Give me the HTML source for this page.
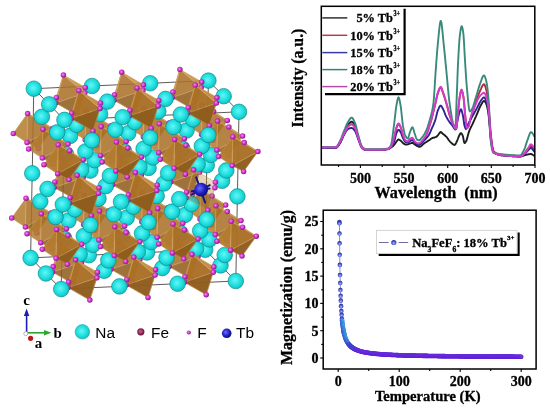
<!DOCTYPE html>
<html><head><meta charset="utf-8"><style>
html,body{margin:0;padding:0;background:#fff;}
svg{display:block;}
</style></head><body>
<svg width="550" height="410" viewBox="0 0 550 410">
<defs>
<radialGradient id="gb" cx="0.5" cy="0.65" r="0.6"><stop offset="0" stop-color="#a8b8ff"/><stop offset="0.55" stop-color="#5560d0"/><stop offset="1" stop-color="#2a2a9a"/></radialGradient>
<radialGradient id="gc" cx="0.6" cy="0.5" r="0.6"><stop offset="0" stop-color="#60d0f8"/><stop offset="0.6" stop-color="#3a9ae6"/><stop offset="1" stop-color="#3050c0"/></radialGradient>
<radialGradient id="gm" cx="0.5" cy="0.5" r="0.6"><stop offset="0" stop-color="#5a70f0"/><stop offset="1" stop-color="#4030c0"/></radialGradient>
<radialGradient id="gp" cx="0.5" cy="0.4" r="0.6"><stop offset="0" stop-color="#7a3af0"/><stop offset="1" stop-color="#5a1ed0"/></radialGradient>
</defs>
<rect width="550" height="410" fill="#fff"/>
<defs>
<radialGradient id="na" cx="0.45" cy="0.45" r="0.6"><stop offset="0" stop-color="#64f6f6"/><stop offset="0.55" stop-color="#22e0e0"/><stop offset="0.88" stop-color="#14c4c4"/><stop offset="1" stop-color="#0c9090"/></radialGradient>
<linearGradient id="feP" x1="0" y1="0" x2="1" y2="1"><stop offset="0" stop-color="#c48428"/><stop offset="1" stop-color="#8a5414"/></linearGradient>
<linearGradient id="feO" x1="0" y1="0" x2="1" y2="1"><stop offset="0" stop-color="#c08030"/><stop offset="1" stop-color="#8c5616"/></linearGradient>
<radialGradient id="fl" cx="0.42" cy="0.42" r="0.62"><stop offset="0" stop-color="#f48cf0"/><stop offset="0.55" stop-color="#cc2cc4"/><stop offset="1" stop-color="#7e1480"/></radialGradient>
<radialGradient id="tb" cx="0.4" cy="0.4" r="0.65"><stop offset="0" stop-color="#6a6aff"/><stop offset="0.6" stop-color="#1c1cc0"/><stop offset="1" stop-color="#0a0a70"/></radialGradient>
<radialGradient id="fe3" cx="0.45" cy="0.45" r="0.6"><stop offset="0" stop-color="#d06090"/><stop offset="0.6" stop-color="#8a2850"/><stop offset="1" stop-color="#501030"/></radialGradient>
</defs>
<line x1="33.8" y1="88.7" x2="208.4" y2="80.6" stroke="#5e5a56" stroke-width="1"/>
<line x1="33.8" y1="88.7" x2="30.6" y2="257.9" stroke="#5e5a56" stroke-width="1"/>
<line x1="33.8" y1="88.7" x2="64.4" y2="119.9" stroke="#5e5a56" stroke-width="1"/>
<line x1="64.4" y1="119.9" x2="239.0" y2="111.8" stroke="#5e5a56" stroke-width="1"/>
<line x1="64.4" y1="119.9" x2="61.2" y2="289.1" stroke="#5e5a56" stroke-width="1"/>
<line x1="30.6" y1="257.9" x2="205.2" y2="249.8" stroke="#5e5a56" stroke-width="1"/>
<line x1="30.6" y1="257.9" x2="61.2" y2="289.1" stroke="#5e5a56" stroke-width="1"/>
<line x1="61.2" y1="289.1" x2="235.8" y2="281.0" stroke="#5e5a56" stroke-width="1"/>
<line x1="208.4" y1="80.6" x2="205.2" y2="249.8" stroke="#5e5a56" stroke-width="1"/>
<line x1="208.4" y1="80.6" x2="239.0" y2="111.8" stroke="#5e5a56" stroke-width="1"/>
<line x1="239.0" y1="111.8" x2="235.8" y2="281.0" stroke="#5e5a56" stroke-width="1"/>
<line x1="205.2" y1="249.8" x2="235.8" y2="281.0" stroke="#5e5a56" stroke-width="1"/>
<circle cx="205.2" cy="249.8" r="7.8" fill="url(#na)" stroke="#0c8484" stroke-width="0.6"/>
<g opacity="0.86">
<polygon points="200.6,190.1 225.7,205.0 200.0,219.0" fill="#aa7026" stroke="#aa7026" stroke-width="0.4" stroke-linejoin="round"/>
<polygon points="200.6,190.1 212.0,196.0 225.7,205.0" fill="#c48c40" stroke="#c48c40" stroke-width="0.4" stroke-linejoin="round"/>
<polygon points="225.7,205.0 211.4,224.9 200.0,219.0" fill="#905c1c" stroke="#905c1c" stroke-width="0.4" stroke-linejoin="round"/>
<polygon points="200.0,219.0 186.3,210.0 200.6,190.1" fill="#b47c30" stroke="#b47c30" stroke-width="0.4" stroke-linejoin="round"/>
</g>
<path d="M200.6,190.1 L225.7,205.0 M225.7,205.0 L200.0,219.0 M200.0,219.0 L200.6,190.1" stroke="#e2b474" stroke-width="0.6" fill="none" opacity="0.85"/>
<polygon points="200.6,190.1 212.0,196.0 225.7,205.0 211.4,224.9 200.0,219.0 186.3,210.0" fill="none" stroke="#c89a50" stroke-width="0.5" stroke-linejoin="round"/>
<circle cx="200.6" cy="190.1" r="2.75" fill="url(#fl)"/>
<circle cx="212.0" cy="196.0" r="2.75" fill="url(#fl)"/>
<circle cx="225.7" cy="205.0" r="2.75" fill="url(#fl)"/>
<circle cx="211.4" cy="224.9" r="2.75" fill="url(#fl)"/>
<circle cx="200.0" cy="219.0" r="2.75" fill="url(#fl)"/>
<circle cx="186.3" cy="210.0" r="2.75" fill="url(#fl)"/>
<circle cx="180.7" cy="233.2" r="7.8" fill="url(#na)" stroke="#0c8484" stroke-width="0.6"/>
<circle cx="147.0" cy="252.5" r="7.8" fill="url(#na)" stroke="#0c8484" stroke-width="0.6"/>
<circle cx="206.8" cy="165.2" r="7.8" fill="url(#na)" stroke="#0c8484" stroke-width="0.6"/>
<g opacity="0.86">
<polygon points="142.4,192.8 167.5,207.7 141.8,221.7" fill="#aa7026" stroke="#aa7026" stroke-width="0.4" stroke-linejoin="round"/>
<polygon points="142.4,192.8 153.8,198.7 167.5,207.7" fill="#c48c40" stroke="#c48c40" stroke-width="0.4" stroke-linejoin="round"/>
<polygon points="167.5,207.7 153.2,227.6 141.8,221.7" fill="#905c1c" stroke="#905c1c" stroke-width="0.4" stroke-linejoin="round"/>
<polygon points="141.8,221.7 128.1,212.7 142.4,192.8" fill="#b47c30" stroke="#b47c30" stroke-width="0.4" stroke-linejoin="round"/>
</g>
<path d="M142.4,192.8 L167.5,207.7 M167.5,207.7 L141.8,221.7 M141.8,221.7 L142.4,192.8" stroke="#e2b474" stroke-width="0.6" fill="none" opacity="0.85"/>
<polygon points="142.4,192.8 153.8,198.7 167.5,207.7 153.2,227.6 141.8,221.7 128.1,212.7" fill="none" stroke="#c89a50" stroke-width="0.5" stroke-linejoin="round"/>
<circle cx="142.4" cy="192.8" r="2.75" fill="url(#fl)"/>
<circle cx="153.8" cy="198.7" r="2.75" fill="url(#fl)"/>
<circle cx="167.5" cy="207.7" r="2.75" fill="url(#fl)"/>
<circle cx="153.2" cy="227.6" r="2.75" fill="url(#fl)"/>
<circle cx="141.8" cy="221.7" r="2.75" fill="url(#fl)"/>
<circle cx="128.1" cy="212.7" r="2.75" fill="url(#fl)"/>
<circle cx="122.5" cy="235.9" r="7.8" fill="url(#na)" stroke="#0c8484" stroke-width="0.6"/>
<circle cx="209.4" cy="239.4" r="7.8" fill="url(#na)" stroke="#0c8484" stroke-width="0.6"/>
<circle cx="88.8" cy="255.2" r="7.8" fill="url(#na)" stroke="#0c8484" stroke-width="0.6"/>
<g opacity="0.86">
<polygon points="202.2,105.5 227.3,120.4 201.6,134.4" fill="#aa7026" stroke="#aa7026" stroke-width="0.4" stroke-linejoin="round"/>
<polygon points="202.2,105.5 213.6,111.4 227.3,120.4" fill="#c48c40" stroke="#c48c40" stroke-width="0.4" stroke-linejoin="round"/>
<polygon points="227.3,120.4 213.0,140.3 201.6,134.4" fill="#905c1c" stroke="#905c1c" stroke-width="0.4" stroke-linejoin="round"/>
<polygon points="201.6,134.4 187.9,125.4 202.2,105.5" fill="#b47c30" stroke="#b47c30" stroke-width="0.4" stroke-linejoin="round"/>
</g>
<path d="M202.2,105.5 L227.3,120.4 M227.3,120.4 L201.6,134.4 M201.6,134.4 L202.2,105.5" stroke="#e2b474" stroke-width="0.6" fill="none" opacity="0.85"/>
<polygon points="202.2,105.5 213.6,111.4 227.3,120.4 213.0,140.3 201.6,134.4 187.9,125.4" fill="none" stroke="#c89a50" stroke-width="0.5" stroke-linejoin="round"/>
<circle cx="202.2" cy="105.5" r="2.75" fill="url(#fl)"/>
<circle cx="213.6" cy="111.4" r="2.75" fill="url(#fl)"/>
<circle cx="227.3" cy="120.4" r="2.75" fill="url(#fl)"/>
<circle cx="213.0" cy="140.3" r="2.75" fill="url(#fl)"/>
<circle cx="201.6" cy="134.4" r="2.75" fill="url(#fl)"/>
<circle cx="187.9" cy="125.4" r="2.75" fill="url(#fl)"/>
<g opacity="0.86">
<polygon points="176.7,238.8 198.0,256.8 169.1,266.6" fill="#aa7026" stroke="#aa7026" stroke-width="0.4" stroke-linejoin="round"/>
<polygon points="176.7,238.8 198.5,251.2 198.0,256.8" fill="#c48c40" stroke="#c48c40" stroke-width="0.4" stroke-linejoin="round"/>
<polygon points="198.0,256.8 190.9,279.1 169.1,266.6" fill="#905c1c" stroke="#905c1c" stroke-width="0.4" stroke-linejoin="round"/>
<polygon points="169.1,266.6 169.6,261.1 176.7,238.8" fill="#b47c30" stroke="#b47c30" stroke-width="0.4" stroke-linejoin="round"/>
</g>
<path d="M176.7,238.8 L198.0,256.8 M198.0,256.8 L169.1,266.6 M169.1,266.6 L176.7,238.8" stroke="#e2b474" stroke-width="0.6" fill="none" opacity="0.85"/>
<polygon points="176.7,238.8 198.5,251.2 198.0,256.8 190.9,279.1 169.1,266.6 169.6,261.1" fill="none" stroke="#c89a50" stroke-width="0.5" stroke-linejoin="round"/>
<circle cx="176.7" cy="238.8" r="2.75" fill="url(#fl)"/>
<circle cx="198.5" cy="251.2" r="2.75" fill="url(#fl)"/>
<circle cx="198.0" cy="256.8" r="2.75" fill="url(#fl)"/>
<circle cx="190.9" cy="279.1" r="2.75" fill="url(#fl)"/>
<circle cx="169.1" cy="266.6" r="2.75" fill="url(#fl)"/>
<circle cx="169.6" cy="261.1" r="2.75" fill="url(#fl)"/>
<circle cx="182.3" cy="148.6" r="7.8" fill="url(#na)" stroke="#0c8484" stroke-width="0.6"/>
<circle cx="148.6" cy="167.9" r="7.8" fill="url(#na)" stroke="#0c8484" stroke-width="0.6"/>
<g opacity="0.86">
<polygon points="84.2,195.5 109.3,210.4 83.6,224.4" fill="#aa7026" stroke="#aa7026" stroke-width="0.4" stroke-linejoin="round"/>
<polygon points="84.2,195.5 95.6,201.4 109.3,210.4" fill="#c48c40" stroke="#c48c40" stroke-width="0.4" stroke-linejoin="round"/>
<polygon points="109.3,210.4 95.0,230.3 83.6,224.4" fill="#905c1c" stroke="#905c1c" stroke-width="0.4" stroke-linejoin="round"/>
<polygon points="83.6,224.4 69.9,215.4 84.2,195.5" fill="#b47c30" stroke="#b47c30" stroke-width="0.4" stroke-linejoin="round"/>
</g>
<path d="M84.2,195.5 L109.3,210.4 M109.3,210.4 L83.6,224.4 M83.6,224.4 L84.2,195.5" stroke="#e2b474" stroke-width="0.6" fill="none" opacity="0.85"/>
<polygon points="84.2,195.5 95.6,201.4 109.3,210.4 95.0,230.3 83.6,224.4 69.9,215.4" fill="none" stroke="#c89a50" stroke-width="0.5" stroke-linejoin="round"/>
<circle cx="84.2" cy="195.5" r="2.75" fill="url(#fl)"/>
<circle cx="95.6" cy="201.4" r="2.75" fill="url(#fl)"/>
<circle cx="109.3" cy="210.4" r="2.75" fill="url(#fl)"/>
<circle cx="95.0" cy="230.3" r="2.75" fill="url(#fl)"/>
<circle cx="83.6" cy="224.4" r="2.75" fill="url(#fl)"/>
<circle cx="69.9" cy="215.4" r="2.75" fill="url(#fl)"/>
<circle cx="64.3" cy="238.6" r="7.8" fill="url(#na)" stroke="#0c8484" stroke-width="0.6"/>
<circle cx="208.4" cy="80.6" r="7.8" fill="url(#na)" stroke="#0c8484" stroke-width="0.6"/>
<circle cx="184.9" cy="215.1" r="7.8" fill="url(#na)" stroke="#0c8484" stroke-width="0.6"/>
<circle cx="151.2" cy="242.1" r="7.8" fill="url(#na)" stroke="#0c8484" stroke-width="0.6"/>
<circle cx="30.6" cy="257.9" r="7.8" fill="url(#na)" stroke="#0c8484" stroke-width="0.6"/>
<g opacity="0.86">
<polygon points="144.0,108.2 169.1,123.1 143.4,137.1" fill="#aa7026" stroke="#aa7026" stroke-width="0.4" stroke-linejoin="round"/>
<polygon points="144.0,108.2 155.4,114.1 169.1,123.1" fill="#c48c40" stroke="#c48c40" stroke-width="0.4" stroke-linejoin="round"/>
<polygon points="169.1,123.1 154.8,143.0 143.4,137.1" fill="#905c1c" stroke="#905c1c" stroke-width="0.4" stroke-linejoin="round"/>
<polygon points="143.4,137.1 129.7,128.1 144.0,108.2" fill="#b47c30" stroke="#b47c30" stroke-width="0.4" stroke-linejoin="round"/>
</g>
<path d="M144.0,108.2 L169.1,123.1 M169.1,123.1 L143.4,137.1 M143.4,137.1 L144.0,108.2" stroke="#e2b474" stroke-width="0.6" fill="none" opacity="0.85"/>
<polygon points="144.0,108.2 155.4,114.1 169.1,123.1 154.8,143.0 143.4,137.1 129.7,128.1" fill="none" stroke="#c89a50" stroke-width="0.5" stroke-linejoin="round"/>
<circle cx="144.0" cy="108.2" r="2.75" fill="url(#fl)"/>
<circle cx="155.4" cy="114.1" r="2.75" fill="url(#fl)"/>
<circle cx="169.1" cy="123.1" r="2.75" fill="url(#fl)"/>
<circle cx="154.8" cy="143.0" r="2.75" fill="url(#fl)"/>
<circle cx="143.4" cy="137.1" r="2.75" fill="url(#fl)"/>
<circle cx="129.7" cy="128.1" r="2.75" fill="url(#fl)"/>
<g opacity="0.86">
<polygon points="118.5,241.4 139.8,259.4 110.9,269.3" fill="#aa7026" stroke="#aa7026" stroke-width="0.4" stroke-linejoin="round"/>
<polygon points="118.5,241.4 140.2,253.9 139.8,259.4" fill="#c48c40" stroke="#c48c40" stroke-width="0.4" stroke-linejoin="round"/>
<polygon points="139.8,259.4 132.7,281.8 110.9,269.3" fill="#905c1c" stroke="#905c1c" stroke-width="0.4" stroke-linejoin="round"/>
<polygon points="110.9,269.3 111.4,263.8 118.5,241.4" fill="#b47c30" stroke="#b47c30" stroke-width="0.4" stroke-linejoin="round"/>
</g>
<path d="M118.5,241.4 L139.8,259.4 M139.8,259.4 L110.9,269.3 M110.9,269.3 L118.5,241.4" stroke="#e2b474" stroke-width="0.6" fill="none" opacity="0.85"/>
<polygon points="118.5,241.4 140.2,253.9 139.8,259.4 132.7,281.8 110.9,269.3 111.4,263.8" fill="none" stroke="#c89a50" stroke-width="0.5" stroke-linejoin="round"/>
<circle cx="118.5" cy="241.4" r="2.75" fill="url(#fl)"/>
<circle cx="140.2" cy="253.9" r="2.75" fill="url(#fl)"/>
<circle cx="139.8" cy="259.4" r="2.75" fill="url(#fl)"/>
<circle cx="132.7" cy="281.8" r="2.75" fill="url(#fl)"/>
<circle cx="110.9" cy="269.3" r="2.75" fill="url(#fl)"/>
<circle cx="111.4" cy="263.8" r="2.75" fill="url(#fl)"/>
<circle cx="124.1" cy="151.3" r="7.8" fill="url(#na)" stroke="#0c8484" stroke-width="0.6"/>
<circle cx="220.5" cy="265.4" r="7.8" fill="url(#na)" stroke="#0c8484" stroke-width="0.6"/>
<circle cx="211.0" cy="154.8" r="7.8" fill="url(#na)" stroke="#0c8484" stroke-width="0.6"/>
<circle cx="90.4" cy="170.6" r="7.8" fill="url(#na)" stroke="#0c8484" stroke-width="0.6"/>
<g opacity="0.86">
<polygon points="178.3,154.2 199.6,172.2 170.7,182.1" fill="#aa7026" stroke="#aa7026" stroke-width="0.4" stroke-linejoin="round"/>
<polygon points="178.3,154.2 200.1,166.7 199.6,172.2" fill="#c48c40" stroke="#c48c40" stroke-width="0.4" stroke-linejoin="round"/>
<polygon points="199.6,172.2 192.5,194.6 170.7,182.1" fill="#905c1c" stroke="#905c1c" stroke-width="0.4" stroke-linejoin="round"/>
<polygon points="170.7,182.1 171.2,176.6 178.3,154.2" fill="#b47c30" stroke="#b47c30" stroke-width="0.4" stroke-linejoin="round"/>
</g>
<path d="M178.3,154.2 L199.6,172.2 M199.6,172.2 L170.7,182.1 M170.7,182.1 L178.3,154.2" stroke="#e2b474" stroke-width="0.6" fill="none" opacity="0.85"/>
<polygon points="178.3,154.2 200.1,166.7 199.6,172.2 192.5,194.6 170.7,182.1 171.2,176.6" fill="none" stroke="#c89a50" stroke-width="0.5" stroke-linejoin="round"/>
<circle cx="178.3" cy="154.2" r="2.75" fill="url(#fl)"/>
<circle cx="200.1" cy="166.7" r="2.75" fill="url(#fl)"/>
<circle cx="199.6" cy="172.2" r="2.75" fill="url(#fl)"/>
<circle cx="192.5" cy="194.6" r="2.75" fill="url(#fl)"/>
<circle cx="170.7" cy="182.1" r="2.75" fill="url(#fl)"/>
<circle cx="171.2" cy="176.6" r="2.75" fill="url(#fl)"/>
<circle cx="156.7" cy="196.0" r="7.8" fill="url(#na)" stroke="#0c8484" stroke-width="0.6"/>
<g opacity="0.86">
<polygon points="26.0,198.2 51.1,213.1 25.4,227.1" fill="#aa7026" stroke="#aa7026" stroke-width="0.4" stroke-linejoin="round"/>
<polygon points="26.0,198.2 37.4,204.1 51.1,213.1" fill="#c48c40" stroke="#c48c40" stroke-width="0.4" stroke-linejoin="round"/>
<polygon points="51.1,213.1 36.8,233.0 25.4,227.1" fill="#905c1c" stroke="#905c1c" stroke-width="0.4" stroke-linejoin="round"/>
<polygon points="25.4,227.1 11.7,218.1 26.0,198.2" fill="#b47c30" stroke="#b47c30" stroke-width="0.4" stroke-linejoin="round"/>
</g>
<path d="M26.0,198.2 L51.1,213.1 M51.1,213.1 L25.4,227.1 M25.4,227.1 L26.0,198.2" stroke="#e2b474" stroke-width="0.6" fill="none" opacity="0.85"/>
<polygon points="26.0,198.2 37.4,204.1 51.1,213.1 36.8,233.0 25.4,227.1 11.7,218.1" fill="none" stroke="#c89a50" stroke-width="0.5" stroke-linejoin="round"/>
<circle cx="26.0" cy="198.2" r="2.75" fill="url(#fl)"/>
<circle cx="37.4" cy="204.1" r="2.75" fill="url(#fl)"/>
<circle cx="51.1" cy="213.1" r="2.75" fill="url(#fl)"/>
<circle cx="36.8" cy="233.0" r="2.75" fill="url(#fl)"/>
<circle cx="25.4" cy="227.1" r="2.75" fill="url(#fl)"/>
<circle cx="11.7" cy="218.1" r="2.75" fill="url(#fl)"/>
<circle cx="150.2" cy="83.3" r="7.8" fill="url(#na)" stroke="#0c8484" stroke-width="0.6"/>
<circle cx="126.7" cy="217.8" r="7.8" fill="url(#na)" stroke="#0c8484" stroke-width="0.6"/>
<g opacity="0.86">
<polygon points="215.9,205.7 241.0,220.6 215.3,234.6" fill="#aa7026" stroke="#aa7026" stroke-width="0.4" stroke-linejoin="round"/>
<polygon points="215.9,205.7 227.3,211.6 241.0,220.6" fill="#c48c40" stroke="#c48c40" stroke-width="0.4" stroke-linejoin="round"/>
<polygon points="241.0,220.6 226.7,240.5 215.3,234.6" fill="#905c1c" stroke="#905c1c" stroke-width="0.4" stroke-linejoin="round"/>
<polygon points="215.3,234.6 201.6,225.6 215.9,205.7" fill="#b47c30" stroke="#b47c30" stroke-width="0.4" stroke-linejoin="round"/>
</g>
<path d="M215.9,205.7 L241.0,220.6 M241.0,220.6 L215.3,234.6 M215.3,234.6 L215.9,205.7" stroke="#e2b474" stroke-width="0.6" fill="none" opacity="0.85"/>
<polygon points="215.9,205.7 227.3,211.6 241.0,220.6 226.7,240.5 215.3,234.6 201.6,225.6" fill="none" stroke="#c89a50" stroke-width="0.5" stroke-linejoin="round"/>
<circle cx="215.9" cy="205.7" r="2.75" fill="url(#fl)"/>
<circle cx="227.3" cy="211.6" r="2.75" fill="url(#fl)"/>
<circle cx="241.0" cy="220.6" r="2.75" fill="url(#fl)"/>
<circle cx="226.7" cy="240.5" r="2.75" fill="url(#fl)"/>
<circle cx="215.3" cy="234.6" r="2.75" fill="url(#fl)"/>
<circle cx="201.6" cy="225.6" r="2.75" fill="url(#fl)"/>
<circle cx="93.0" cy="244.8" r="7.8" fill="url(#na)" stroke="#0c8484" stroke-width="0.6"/>
<circle cx="196.0" cy="248.8" r="7.8" fill="url(#na)" stroke="#0c8484" stroke-width="0.6"/>
<g opacity="0.86">
<polygon points="85.8,110.9 110.9,125.8 85.2,139.8" fill="#aa7026" stroke="#aa7026" stroke-width="0.4" stroke-linejoin="round"/>
<polygon points="85.8,110.9 97.2,116.8 110.9,125.8" fill="#c48c40" stroke="#c48c40" stroke-width="0.4" stroke-linejoin="round"/>
<polygon points="110.9,125.8 96.6,145.7 85.2,139.8" fill="#905c1c" stroke="#905c1c" stroke-width="0.4" stroke-linejoin="round"/>
<polygon points="85.2,139.8 71.5,130.8 85.8,110.9" fill="#b47c30" stroke="#b47c30" stroke-width="0.4" stroke-linejoin="round"/>
</g>
<path d="M85.8,110.9 L110.9,125.8 M110.9,125.8 L85.2,139.8 M85.2,139.8 L85.8,110.9" stroke="#e2b474" stroke-width="0.6" fill="none" opacity="0.85"/>
<polygon points="85.8,110.9 97.2,116.8 110.9,125.8 96.6,145.7 85.2,139.8 71.5,130.8" fill="none" stroke="#c89a50" stroke-width="0.5" stroke-linejoin="round"/>
<circle cx="85.8" cy="110.9" r="2.75" fill="url(#fl)"/>
<circle cx="97.2" cy="116.8" r="2.75" fill="url(#fl)"/>
<circle cx="110.9" cy="125.8" r="2.75" fill="url(#fl)"/>
<circle cx="96.6" cy="145.7" r="2.75" fill="url(#fl)"/>
<circle cx="85.2" cy="139.8" r="2.75" fill="url(#fl)"/>
<circle cx="71.5" cy="130.8" r="2.75" fill="url(#fl)"/>
<g opacity="0.86">
<polygon points="60.2,244.2 81.5,262.2 52.6,272.1" fill="#aa7026" stroke="#aa7026" stroke-width="0.4" stroke-linejoin="round"/>
<polygon points="60.2,244.2 82.0,256.7 81.5,262.2" fill="#c48c40" stroke="#c48c40" stroke-width="0.4" stroke-linejoin="round"/>
<polygon points="81.5,262.2 74.4,284.6 52.6,272.1" fill="#905c1c" stroke="#905c1c" stroke-width="0.4" stroke-linejoin="round"/>
<polygon points="52.6,272.1 53.1,266.6 60.2,244.2" fill="#b47c30" stroke="#b47c30" stroke-width="0.4" stroke-linejoin="round"/>
</g>
<path d="M60.2,244.2 L81.5,262.2 M81.5,262.2 L52.6,272.1 M52.6,272.1 L60.2,244.2" stroke="#e2b474" stroke-width="0.6" fill="none" opacity="0.85"/>
<polygon points="60.2,244.2 82.0,256.7 81.5,262.2 74.4,284.6 52.6,272.1 53.1,266.6" fill="none" stroke="#c89a50" stroke-width="0.5" stroke-linejoin="round"/>
<circle cx="60.2" cy="244.2" r="2.75" fill="url(#fl)"/>
<circle cx="82.0" cy="256.7" r="2.75" fill="url(#fl)"/>
<circle cx="81.5" cy="262.2" r="2.75" fill="url(#fl)"/>
<circle cx="74.4" cy="284.6" r="2.75" fill="url(#fl)"/>
<circle cx="52.6" cy="272.1" r="2.75" fill="url(#fl)"/>
<circle cx="53.1" cy="266.6" r="2.75" fill="url(#fl)"/>
<circle cx="65.9" cy="154.0" r="7.8" fill="url(#na)" stroke="#0c8484" stroke-width="0.6"/>
<circle cx="186.5" cy="130.5" r="7.8" fill="url(#na)" stroke="#0c8484" stroke-width="0.6"/>
<circle cx="162.3" cy="268.1" r="7.8" fill="url(#na)" stroke="#0c8484" stroke-width="0.6"/>
<circle cx="152.8" cy="157.5" r="7.8" fill="url(#na)" stroke="#0c8484" stroke-width="0.6"/>
<circle cx="32.2" cy="173.3" r="7.8" fill="url(#na)" stroke="#0c8484" stroke-width="0.6"/>
<g opacity="0.86">
<polygon points="120.1,156.9 141.4,174.9 112.5,184.8" fill="#aa7026" stroke="#aa7026" stroke-width="0.4" stroke-linejoin="round"/>
<polygon points="120.1,156.9 141.9,169.4 141.4,174.9" fill="#c48c40" stroke="#c48c40" stroke-width="0.4" stroke-linejoin="round"/>
<polygon points="141.4,174.9 134.3,197.2 112.5,184.8" fill="#905c1c" stroke="#905c1c" stroke-width="0.4" stroke-linejoin="round"/>
<polygon points="112.5,184.8 113.0,179.2 120.1,156.9" fill="#b47c30" stroke="#b47c30" stroke-width="0.4" stroke-linejoin="round"/>
</g>
<path d="M120.1,156.9 L141.4,174.9 M141.4,174.9 L112.5,184.8 M112.5,184.8 L120.1,156.9" stroke="#e2b474" stroke-width="0.6" fill="none" opacity="0.85"/>
<polygon points="120.1,156.9 141.9,169.4 141.4,174.9 134.3,197.2 112.5,184.8 113.0,179.2" fill="none" stroke="#c89a50" stroke-width="0.5" stroke-linejoin="round"/>
<circle cx="120.1" cy="156.9" r="2.75" fill="url(#fl)"/>
<circle cx="141.9" cy="169.4" r="2.75" fill="url(#fl)"/>
<circle cx="141.4" cy="174.9" r="2.75" fill="url(#fl)"/>
<circle cx="134.3" cy="197.2" r="2.75" fill="url(#fl)"/>
<circle cx="112.5" cy="184.8" r="2.75" fill="url(#fl)"/>
<circle cx="113.0" cy="179.2" r="2.75" fill="url(#fl)"/>
<circle cx="222.1" cy="180.8" r="7.8" fill="url(#na)" stroke="#0c8484" stroke-width="0.6"/>
<circle cx="98.5" cy="198.7" r="7.8" fill="url(#na)" stroke="#0c8484" stroke-width="0.6"/>
<circle cx="191.4" cy="204.0" r="7.8" fill="url(#na)" stroke="#0c8484" stroke-width="0.6"/>
<circle cx="92.0" cy="86.0" r="7.8" fill="url(#na)" stroke="#0c8484" stroke-width="0.6"/>
<circle cx="68.5" cy="220.5" r="7.8" fill="url(#na)" stroke="#0c8484" stroke-width="0.6"/>
<g opacity="0.86">
<polygon points="179.9,69.5 201.2,87.5 172.3,97.5" fill="#aa7026" stroke="#aa7026" stroke-width="0.4" stroke-linejoin="round"/>
<polygon points="179.9,69.5 201.7,82.0 201.2,87.5" fill="#c48c40" stroke="#c48c40" stroke-width="0.4" stroke-linejoin="round"/>
<polygon points="201.2,87.5 194.1,110.0 172.3,97.5" fill="#905c1c" stroke="#905c1c" stroke-width="0.4" stroke-linejoin="round"/>
<polygon points="172.3,97.5 172.8,92.0 179.9,69.5" fill="#b47c30" stroke="#b47c30" stroke-width="0.4" stroke-linejoin="round"/>
</g>
<path d="M179.9,69.5 L201.2,87.5 M201.2,87.5 L172.3,97.5 M172.3,97.5 L179.9,69.5" stroke="#e2b474" stroke-width="0.6" fill="none" opacity="0.85"/>
<polygon points="179.9,69.5 201.7,82.0 201.2,87.5 194.1,110.0 172.3,97.5 172.8,92.0" fill="none" stroke="#c89a50" stroke-width="0.5" stroke-linejoin="round"/>
<circle cx="179.9" cy="69.5" r="2.75" fill="url(#fl)"/>
<circle cx="201.7" cy="82.0" r="2.75" fill="url(#fl)"/>
<circle cx="201.2" cy="87.5" r="2.75" fill="url(#fl)"/>
<circle cx="194.1" cy="110.0" r="2.75" fill="url(#fl)"/>
<circle cx="172.3" cy="97.5" r="2.75" fill="url(#fl)"/>
<circle cx="172.8" cy="92.0" r="2.75" fill="url(#fl)"/>
<g opacity="0.86">
<polygon points="157.7,208.4 182.8,223.3 157.1,237.3" fill="#aa7026" stroke="#aa7026" stroke-width="0.4" stroke-linejoin="round"/>
<polygon points="157.7,208.4 169.1,214.3 182.8,223.3" fill="#c48c40" stroke="#c48c40" stroke-width="0.4" stroke-linejoin="round"/>
<polygon points="182.8,223.3 168.5,243.2 157.1,237.3" fill="#905c1c" stroke="#905c1c" stroke-width="0.4" stroke-linejoin="round"/>
<polygon points="157.1,237.3 143.4,228.3 157.7,208.4" fill="#b47c30" stroke="#b47c30" stroke-width="0.4" stroke-linejoin="round"/>
</g>
<path d="M157.7,208.4 L182.8,223.3 M182.8,223.3 L157.1,237.3 M157.1,237.3 L157.7,208.4" stroke="#e2b474" stroke-width="0.6" fill="none" opacity="0.85"/>
<polygon points="157.7,208.4 169.1,214.3 182.8,223.3 168.5,243.2 157.1,237.3 143.4,228.3" fill="none" stroke="#c89a50" stroke-width="0.5" stroke-linejoin="round"/>
<circle cx="157.7" cy="208.4" r="2.75" fill="url(#fl)"/>
<circle cx="169.1" cy="214.3" r="2.75" fill="url(#fl)"/>
<circle cx="182.8" cy="223.3" r="2.75" fill="url(#fl)"/>
<circle cx="168.5" cy="243.2" r="2.75" fill="url(#fl)"/>
<circle cx="157.1" cy="237.3" r="2.75" fill="url(#fl)"/>
<circle cx="143.4" cy="228.3" r="2.75" fill="url(#fl)"/>
<circle cx="137.8" cy="251.5" r="7.8" fill="url(#na)" stroke="#0c8484" stroke-width="0.6"/>
<circle cx="158.3" cy="111.4" r="7.8" fill="url(#na)" stroke="#0c8484" stroke-width="0.6"/>
<g opacity="0.86">
<polygon points="27.6,113.6 52.7,128.5 27.0,142.5" fill="#aa7026" stroke="#aa7026" stroke-width="0.4" stroke-linejoin="round"/>
<polygon points="27.6,113.6 39.0,119.5 52.7,128.5" fill="#c48c40" stroke="#c48c40" stroke-width="0.4" stroke-linejoin="round"/>
<polygon points="52.7,128.5 38.4,148.4 27.0,142.5" fill="#905c1c" stroke="#905c1c" stroke-width="0.4" stroke-linejoin="round"/>
<polygon points="27.0,142.5 13.3,133.5 27.6,113.6" fill="#b47c30" stroke="#b47c30" stroke-width="0.4" stroke-linejoin="round"/>
</g>
<path d="M27.6,113.6 L52.7,128.5 M52.7,128.5 L27.0,142.5 M27.0,142.5 L27.6,113.6" stroke="#e2b474" stroke-width="0.6" fill="none" opacity="0.85"/>
<polygon points="27.6,113.6 39.0,119.5 52.7,128.5 38.4,148.4 27.0,142.5 13.3,133.5" fill="none" stroke="#c89a50" stroke-width="0.5" stroke-linejoin="round"/>
<circle cx="27.6" cy="113.6" r="2.75" fill="url(#fl)"/>
<circle cx="39.0" cy="119.5" r="2.75" fill="url(#fl)"/>
<circle cx="52.7" cy="128.5" r="2.75" fill="url(#fl)"/>
<circle cx="38.4" cy="148.4" r="2.75" fill="url(#fl)"/>
<circle cx="27.0" cy="142.5" r="2.75" fill="url(#fl)"/>
<circle cx="13.3" cy="133.5" r="2.75" fill="url(#fl)"/>
<circle cx="224.7" cy="255.0" r="7.8" fill="url(#na)" stroke="#0c8484" stroke-width="0.6"/>
<circle cx="128.3" cy="133.2" r="7.8" fill="url(#na)" stroke="#0c8484" stroke-width="0.6"/>
<circle cx="104.1" cy="270.8" r="7.8" fill="url(#na)" stroke="#0c8484" stroke-width="0.6"/>
<g opacity="0.86">
<polygon points="217.5,121.1 242.6,136.0 216.9,150.0" fill="#aa7026" stroke="#aa7026" stroke-width="0.4" stroke-linejoin="round"/>
<polygon points="217.5,121.1 228.9,127.0 242.6,136.0" fill="#c48c40" stroke="#c48c40" stroke-width="0.4" stroke-linejoin="round"/>
<polygon points="242.6,136.0 228.3,155.9 216.9,150.0" fill="#905c1c" stroke="#905c1c" stroke-width="0.4" stroke-linejoin="round"/>
<polygon points="216.9,150.0 203.2,141.0 217.5,121.1" fill="#b47c30" stroke="#b47c30" stroke-width="0.4" stroke-linejoin="round"/>
</g>
<path d="M217.5,121.1 L242.6,136.0 M242.6,136.0 L216.9,150.0 M216.9,150.0 L217.5,121.1" stroke="#e2b474" stroke-width="0.6" fill="none" opacity="0.85"/>
<polygon points="217.5,121.1 228.9,127.0 242.6,136.0 228.3,155.9 216.9,150.0 203.2,141.0" fill="none" stroke="#c89a50" stroke-width="0.5" stroke-linejoin="round"/>
<circle cx="217.5" cy="121.1" r="2.75" fill="url(#fl)"/>
<circle cx="228.9" cy="127.0" r="2.75" fill="url(#fl)"/>
<circle cx="242.6" cy="136.0" r="2.75" fill="url(#fl)"/>
<circle cx="228.3" cy="155.9" r="2.75" fill="url(#fl)"/>
<circle cx="216.9" cy="150.0" r="2.75" fill="url(#fl)"/>
<circle cx="203.2" cy="141.0" r="2.75" fill="url(#fl)"/>
<g opacity="0.97">
<polygon points="192.0,254.3 213.2,272.3 184.4,282.2" fill="#aa7026" stroke="#aa7026" stroke-width="0.4" stroke-linejoin="round"/>
<polygon points="192.0,254.3 213.8,266.8 213.2,272.3" fill="#c48c40" stroke="#c48c40" stroke-width="0.4" stroke-linejoin="round"/>
<polygon points="213.2,272.3 206.2,294.7 184.4,282.2" fill="#905c1c" stroke="#905c1c" stroke-width="0.4" stroke-linejoin="round"/>
<polygon points="184.4,282.2 184.9,276.7 192.0,254.3" fill="#b47c30" stroke="#b47c30" stroke-width="0.4" stroke-linejoin="round"/>
</g>
<path d="M192.0,254.3 L213.2,272.3 M213.2,272.3 L184.4,282.2 M184.4,282.2 L192.0,254.3" stroke="#e2b474" stroke-width="0.6" fill="none" opacity="0.85"/>
<polygon points="192.0,254.3 213.8,266.8 213.2,272.3 206.2,294.7 184.4,282.2 184.9,276.7" fill="none" stroke="#c89a50" stroke-width="0.5" stroke-linejoin="round"/>
<circle cx="192.0" cy="254.3" r="2.75" fill="url(#fl)"/>
<circle cx="213.8" cy="266.8" r="2.75" fill="url(#fl)"/>
<circle cx="213.2" cy="272.3" r="2.75" fill="url(#fl)"/>
<circle cx="206.2" cy="294.7" r="2.75" fill="url(#fl)"/>
<circle cx="184.4" cy="282.2" r="2.75" fill="url(#fl)"/>
<circle cx="184.9" cy="276.7" r="2.75" fill="url(#fl)"/>
<circle cx="94.6" cy="160.2" r="7.8" fill="url(#na)" stroke="#0c8484" stroke-width="0.6"/>
<circle cx="197.6" cy="164.2" r="7.8" fill="url(#na)" stroke="#0c8484" stroke-width="0.6"/>
<g opacity="0.86">
<polygon points="61.9,159.6 83.2,177.6 54.2,187.4" fill="#aa7026" stroke="#aa7026" stroke-width="0.4" stroke-linejoin="round"/>
<polygon points="61.9,159.6 83.7,172.1 83.2,177.6" fill="#c48c40" stroke="#c48c40" stroke-width="0.4" stroke-linejoin="round"/>
<polygon points="83.2,177.6 76.0,199.9 54.2,187.4" fill="#905c1c" stroke="#905c1c" stroke-width="0.4" stroke-linejoin="round"/>
<polygon points="54.2,187.4 54.8,181.9 61.9,159.6" fill="#b47c30" stroke="#b47c30" stroke-width="0.4" stroke-linejoin="round"/>
</g>
<path d="M61.9,159.6 L83.2,177.6 M83.2,177.6 L54.2,187.4 M54.2,187.4 L61.9,159.6" stroke="#e2b474" stroke-width="0.6" fill="none" opacity="0.85"/>
<polygon points="61.9,159.6 83.7,172.1 83.2,177.6 76.0,199.9 54.2,187.4 54.8,181.9" fill="none" stroke="#c89a50" stroke-width="0.5" stroke-linejoin="round"/>
<circle cx="61.9" cy="159.6" r="2.75" fill="url(#fl)"/>
<circle cx="83.7" cy="172.1" r="2.75" fill="url(#fl)"/>
<circle cx="83.2" cy="177.6" r="2.75" fill="url(#fl)"/>
<circle cx="76.0" cy="199.9" r="2.75" fill="url(#fl)"/>
<circle cx="54.2" cy="187.4" r="2.75" fill="url(#fl)"/>
<circle cx="54.8" cy="181.9" r="2.75" fill="url(#fl)"/>
<circle cx="163.9" cy="183.5" r="7.8" fill="url(#na)" stroke="#0c8484" stroke-width="0.6"/>
<circle cx="40.3" cy="201.4" r="7.8" fill="url(#na)" stroke="#0c8484" stroke-width="0.6"/>
<circle cx="133.2" cy="206.7" r="7.8" fill="url(#na)" stroke="#0c8484" stroke-width="0.6"/>
<circle cx="33.8" cy="88.7" r="7.8" fill="url(#na)" stroke="#0c8484" stroke-width="0.6"/>
<g opacity="0.86">
<polygon points="121.7,72.2 142.9,90.2 114.0,100.2" fill="#aa7026" stroke="#aa7026" stroke-width="0.4" stroke-linejoin="round"/>
<polygon points="121.7,72.2 143.4,84.8 142.9,90.2" fill="#c48c40" stroke="#c48c40" stroke-width="0.4" stroke-linejoin="round"/>
<polygon points="142.9,90.2 135.8,112.7 114.0,100.2" fill="#905c1c" stroke="#905c1c" stroke-width="0.4" stroke-linejoin="round"/>
<polygon points="114.0,100.2 114.5,94.7 121.7,72.2" fill="#b47c30" stroke="#b47c30" stroke-width="0.4" stroke-linejoin="round"/>
</g>
<path d="M121.7,72.2 L142.9,90.2 M142.9,90.2 L114.0,100.2 M114.0,100.2 L121.7,72.2" stroke="#e2b474" stroke-width="0.6" fill="none" opacity="0.85"/>
<polygon points="121.7,72.2 143.4,84.8 142.9,90.2 135.8,112.7 114.0,100.2 114.5,94.7" fill="none" stroke="#c89a50" stroke-width="0.5" stroke-linejoin="round"/>
<circle cx="121.7" cy="72.2" r="2.75" fill="url(#fl)"/>
<circle cx="143.4" cy="84.8" r="2.75" fill="url(#fl)"/>
<circle cx="142.9" cy="90.2" r="2.75" fill="url(#fl)"/>
<circle cx="135.8" cy="112.7" r="2.75" fill="url(#fl)"/>
<circle cx="114.0" cy="100.2" r="2.75" fill="url(#fl)"/>
<circle cx="114.5" cy="94.7" r="2.75" fill="url(#fl)"/>
<g opacity="0.86">
<polygon points="99.5,211.1 124.6,226.0 98.9,240.0" fill="#aa7026" stroke="#aa7026" stroke-width="0.4" stroke-linejoin="round"/>
<polygon points="99.5,211.1 110.9,217.0 124.6,226.0" fill="#c48c40" stroke="#c48c40" stroke-width="0.4" stroke-linejoin="round"/>
<polygon points="124.6,226.0 110.3,245.9 98.9,240.0" fill="#905c1c" stroke="#905c1c" stroke-width="0.4" stroke-linejoin="round"/>
<polygon points="98.9,240.0 85.2,231.0 99.5,211.1" fill="#b47c30" stroke="#b47c30" stroke-width="0.4" stroke-linejoin="round"/>
</g>
<path d="M99.5,211.1 L124.6,226.0 M124.6,226.0 L98.9,240.0 M98.9,240.0 L99.5,211.1" stroke="#e2b474" stroke-width="0.6" fill="none" opacity="0.85"/>
<polygon points="99.5,211.1 110.9,217.0 124.6,226.0 110.3,245.9 98.9,240.0 85.2,231.0" fill="none" stroke="#c89a50" stroke-width="0.5" stroke-linejoin="round"/>
<circle cx="99.5" cy="211.1" r="2.75" fill="url(#fl)"/>
<circle cx="110.9" cy="217.0" r="2.75" fill="url(#fl)"/>
<circle cx="124.6" cy="226.0" r="2.75" fill="url(#fl)"/>
<circle cx="110.3" cy="245.9" r="2.75" fill="url(#fl)"/>
<circle cx="98.9" cy="240.0" r="2.75" fill="url(#fl)"/>
<circle cx="85.2" cy="231.0" r="2.75" fill="url(#fl)"/>
<circle cx="79.6" cy="254.2" r="7.8" fill="url(#na)" stroke="#0c8484" stroke-width="0.6"/>
<circle cx="223.7" cy="96.2" r="7.8" fill="url(#na)" stroke="#0c8484" stroke-width="0.6"/>
<circle cx="100.1" cy="114.1" r="7.8" fill="url(#na)" stroke="#0c8484" stroke-width="0.6"/>
<circle cx="200.2" cy="230.7" r="7.8" fill="url(#na)" stroke="#0c8484" stroke-width="0.6"/>
<circle cx="193.0" cy="119.4" r="7.8" fill="url(#na)" stroke="#0c8484" stroke-width="0.6"/>
<circle cx="166.5" cy="257.7" r="7.8" fill="url(#na)" stroke="#0c8484" stroke-width="0.6"/>
<circle cx="70.1" cy="135.9" r="7.8" fill="url(#na)" stroke="#0c8484" stroke-width="0.6"/>
<circle cx="45.9" cy="273.5" r="7.8" fill="url(#na)" stroke="#0c8484" stroke-width="0.6"/>
<g opacity="0.86">
<polygon points="159.3,123.8 184.4,138.7 158.7,152.7" fill="#aa7026" stroke="#aa7026" stroke-width="0.4" stroke-linejoin="round"/>
<polygon points="159.3,123.8 170.7,129.7 184.4,138.7" fill="#c48c40" stroke="#c48c40" stroke-width="0.4" stroke-linejoin="round"/>
<polygon points="184.4,138.7 170.1,158.6 158.7,152.7" fill="#905c1c" stroke="#905c1c" stroke-width="0.4" stroke-linejoin="round"/>
<polygon points="158.7,152.7 145.0,143.7 159.3,123.8" fill="#b47c30" stroke="#b47c30" stroke-width="0.4" stroke-linejoin="round"/>
</g>
<path d="M159.3,123.8 L184.4,138.7 M184.4,138.7 L158.7,152.7 M158.7,152.7 L159.3,123.8" stroke="#e2b474" stroke-width="0.6" fill="none" opacity="0.85"/>
<polygon points="159.3,123.8 170.7,129.7 184.4,138.7 170.1,158.6 158.7,152.7 145.0,143.7" fill="none" stroke="#c89a50" stroke-width="0.5" stroke-linejoin="round"/>
<circle cx="159.3" cy="123.8" r="2.75" fill="url(#fl)"/>
<circle cx="170.7" cy="129.7" r="2.75" fill="url(#fl)"/>
<circle cx="184.4" cy="138.7" r="2.75" fill="url(#fl)"/>
<circle cx="170.1" cy="158.6" r="2.75" fill="url(#fl)"/>
<circle cx="158.7" cy="152.7" r="2.75" fill="url(#fl)"/>
<circle cx="145.0" cy="143.7" r="2.75" fill="url(#fl)"/>
<g opacity="0.97">
<polygon points="133.8,257.1 155.1,275.1 126.2,284.9" fill="#aa7026" stroke="#aa7026" stroke-width="0.4" stroke-linejoin="round"/>
<polygon points="133.8,257.1 155.6,269.6 155.1,275.1" fill="#c48c40" stroke="#c48c40" stroke-width="0.4" stroke-linejoin="round"/>
<polygon points="155.1,275.1 148.0,297.4 126.2,284.9" fill="#905c1c" stroke="#905c1c" stroke-width="0.4" stroke-linejoin="round"/>
<polygon points="126.2,284.9 126.7,279.4 133.8,257.1" fill="#b47c30" stroke="#b47c30" stroke-width="0.4" stroke-linejoin="round"/>
</g>
<path d="M133.8,257.1 L155.1,275.1 M155.1,275.1 L126.2,284.9 M126.2,284.9 L133.8,257.1" stroke="#e2b474" stroke-width="0.6" fill="none" opacity="0.85"/>
<polygon points="133.8,257.1 155.6,269.6 155.1,275.1 148.0,297.4 126.2,284.9 126.7,279.4" fill="none" stroke="#c89a50" stroke-width="0.5" stroke-linejoin="round"/>
<circle cx="133.8" cy="257.1" r="2.75" fill="url(#fl)"/>
<circle cx="155.6" cy="269.6" r="2.75" fill="url(#fl)"/>
<circle cx="155.1" cy="275.1" r="2.75" fill="url(#fl)"/>
<circle cx="148.0" cy="297.4" r="2.75" fill="url(#fl)"/>
<circle cx="126.2" cy="284.9" r="2.75" fill="url(#fl)"/>
<circle cx="126.7" cy="279.4" r="2.75" fill="url(#fl)"/>
<circle cx="139.4" cy="166.9" r="7.8" fill="url(#na)" stroke="#0c8484" stroke-width="0.6"/>
<circle cx="235.8" cy="281.0" r="7.8" fill="url(#na)" stroke="#0c8484" stroke-width="0.6"/>
<circle cx="226.3" cy="170.4" r="7.8" fill="url(#na)" stroke="#0c8484" stroke-width="0.6"/>
<circle cx="105.7" cy="186.2" r="7.8" fill="url(#na)" stroke="#0c8484" stroke-width="0.6"/>
<g opacity="0.3">
<polygon points="193.6,169.8 214.9,187.8 186.0,197.7" fill="#aa7026" stroke="#aa7026" stroke-width="0.4" stroke-linejoin="round"/>
<polygon points="193.6,169.8 215.4,182.3 214.9,187.8" fill="#c48c40" stroke="#c48c40" stroke-width="0.4" stroke-linejoin="round"/>
<polygon points="214.9,187.8 207.8,210.2 186.0,197.7" fill="#905c1c" stroke="#905c1c" stroke-width="0.4" stroke-linejoin="round"/>
<polygon points="186.0,197.7 186.5,192.2 193.6,169.8" fill="#b47c30" stroke="#b47c30" stroke-width="0.4" stroke-linejoin="round"/>
</g>
<path d="M193.6,169.8 L214.9,187.8 M214.9,187.8 L186.0,197.7 M186.0,197.7 L193.6,169.8" stroke="#e2b474" stroke-width="0.6" fill="none" opacity="0.85"/>
<polygon points="193.6,169.8 215.4,182.3 214.9,187.8 207.8,210.2 186.0,197.7 186.5,192.2" fill="none" stroke="#c89a50" stroke-width="0.5" stroke-linejoin="round"/>
<circle cx="193.6" cy="169.8" r="2.75" fill="url(#fl)"/>
<circle cx="215.4" cy="182.3" r="2.75" fill="url(#fl)"/>
<circle cx="214.9" cy="187.8" r="2.75" fill="url(#fl)"/>
<circle cx="207.8" cy="210.2" r="2.75" fill="url(#fl)"/>
<circle cx="186.0" cy="197.7" r="2.75" fill="url(#fl)"/>
<circle cx="186.5" cy="192.2" r="2.75" fill="url(#fl)"/>
<circle cx="75.0" cy="209.4" r="7.8" fill="url(#na)" stroke="#0c8484" stroke-width="0.6"/>
<circle cx="172.0" cy="211.6" r="7.8" fill="url(#na)" stroke="#0c8484" stroke-width="0.6"/>
<g opacity="0.86">
<polygon points="63.4,75.0 84.8,93.0 55.8,102.9" fill="#aa7026" stroke="#aa7026" stroke-width="0.4" stroke-linejoin="round"/>
<polygon points="63.4,75.0 85.2,87.5 84.8,93.0" fill="#c48c40" stroke="#c48c40" stroke-width="0.4" stroke-linejoin="round"/>
<polygon points="84.8,93.0 77.6,115.4 55.8,102.9" fill="#905c1c" stroke="#905c1c" stroke-width="0.4" stroke-linejoin="round"/>
<polygon points="55.8,102.9 56.3,97.4 63.4,75.0" fill="#b47c30" stroke="#b47c30" stroke-width="0.4" stroke-linejoin="round"/>
</g>
<path d="M63.4,75.0 L84.8,93.0 M84.8,93.0 L55.8,102.9 M55.8,102.9 L63.4,75.0" stroke="#e2b474" stroke-width="0.6" fill="none" opacity="0.85"/>
<polygon points="63.4,75.0 85.2,87.5 84.8,93.0 77.6,115.4 55.8,102.9 56.3,97.4" fill="none" stroke="#c89a50" stroke-width="0.5" stroke-linejoin="round"/>
<circle cx="63.4" cy="75.0" r="2.75" fill="url(#fl)"/>
<circle cx="85.2" cy="87.5" r="2.75" fill="url(#fl)"/>
<circle cx="84.8" cy="93.0" r="2.75" fill="url(#fl)"/>
<circle cx="77.6" cy="115.4" r="2.75" fill="url(#fl)"/>
<circle cx="55.8" cy="102.9" r="2.75" fill="url(#fl)"/>
<circle cx="56.3" cy="97.4" r="2.75" fill="url(#fl)"/>
<g opacity="0.86">
<polygon points="41.3,213.8 66.4,228.7 40.7,242.7" fill="#aa7026" stroke="#aa7026" stroke-width="0.4" stroke-linejoin="round"/>
<polygon points="41.3,213.8 52.7,219.7 66.4,228.7" fill="#c48c40" stroke="#c48c40" stroke-width="0.4" stroke-linejoin="round"/>
<polygon points="66.4,228.7 52.1,248.6 40.7,242.7" fill="#905c1c" stroke="#905c1c" stroke-width="0.4" stroke-linejoin="round"/>
<polygon points="40.7,242.7 27.0,233.7 41.3,213.8" fill="#b47c30" stroke="#b47c30" stroke-width="0.4" stroke-linejoin="round"/>
</g>
<path d="M41.3,213.8 L66.4,228.7 M66.4,228.7 L40.7,242.7 M40.7,242.7 L41.3,213.8" stroke="#e2b474" stroke-width="0.6" fill="none" opacity="0.85"/>
<polygon points="41.3,213.8 52.7,219.7 66.4,228.7 52.1,248.6 40.7,242.7 27.0,233.7" fill="none" stroke="#c89a50" stroke-width="0.5" stroke-linejoin="round"/>
<circle cx="41.3" cy="213.8" r="2.75" fill="url(#fl)"/>
<circle cx="52.7" cy="219.7" r="2.75" fill="url(#fl)"/>
<circle cx="66.4" cy="228.7" r="2.75" fill="url(#fl)"/>
<circle cx="52.1" cy="248.6" r="2.75" fill="url(#fl)"/>
<circle cx="40.7" cy="242.7" r="2.75" fill="url(#fl)"/>
<circle cx="27.0" cy="233.7" r="2.75" fill="url(#fl)"/>
<circle cx="165.5" cy="98.9" r="7.8" fill="url(#na)" stroke="#0c8484" stroke-width="0.6"/>
<circle cx="41.9" cy="116.8" r="7.8" fill="url(#na)" stroke="#0c8484" stroke-width="0.6"/>
<circle cx="142.0" cy="233.4" r="7.8" fill="url(#na)" stroke="#0c8484" stroke-width="0.6"/>
<circle cx="134.8" cy="122.1" r="7.8" fill="url(#na)" stroke="#0c8484" stroke-width="0.6"/>
<g opacity="0.97">
<polygon points="231.2,221.3 256.3,236.2 230.6,250.2" fill="#aa7026" stroke="#aa7026" stroke-width="0.4" stroke-linejoin="round"/>
<polygon points="231.2,221.3 242.6,227.2 256.3,236.2" fill="#c48c40" stroke="#c48c40" stroke-width="0.4" stroke-linejoin="round"/>
<polygon points="256.3,236.2 242.0,256.1 230.6,250.2" fill="#905c1c" stroke="#905c1c" stroke-width="0.4" stroke-linejoin="round"/>
<polygon points="230.6,250.2 216.9,241.2 231.2,221.3" fill="#b47c30" stroke="#b47c30" stroke-width="0.4" stroke-linejoin="round"/>
</g>
<path d="M231.2,221.3 L256.3,236.2 M256.3,236.2 L230.6,250.2 M230.6,250.2 L231.2,221.3" stroke="#e2b474" stroke-width="0.6" fill="none" opacity="0.85"/>
<polygon points="231.2,221.3 242.6,227.2 256.3,236.2 242.0,256.1 230.6,250.2 216.9,241.2" fill="none" stroke="#c89a50" stroke-width="0.5" stroke-linejoin="round"/>
<circle cx="231.2" cy="221.3" r="2.75" fill="url(#fl)"/>
<circle cx="242.6" cy="227.2" r="2.75" fill="url(#fl)"/>
<circle cx="256.3" cy="236.2" r="2.75" fill="url(#fl)"/>
<circle cx="242.0" cy="256.1" r="2.75" fill="url(#fl)"/>
<circle cx="230.6" cy="250.2" r="2.75" fill="url(#fl)"/>
<circle cx="216.9" cy="241.2" r="2.75" fill="url(#fl)"/>
<circle cx="108.3" cy="260.4" r="7.8" fill="url(#na)" stroke="#0c8484" stroke-width="0.6"/>
<g opacity="0.86">
<polygon points="101.1,126.5 126.2,141.4 100.5,155.4" fill="#aa7026" stroke="#aa7026" stroke-width="0.4" stroke-linejoin="round"/>
<polygon points="101.1,126.5 112.5,132.4 126.2,141.4" fill="#c48c40" stroke="#c48c40" stroke-width="0.4" stroke-linejoin="round"/>
<polygon points="126.2,141.4 111.9,161.3 100.5,155.4" fill="#905c1c" stroke="#905c1c" stroke-width="0.4" stroke-linejoin="round"/>
<polygon points="100.5,155.4 86.8,146.4 101.1,126.5" fill="#b47c30" stroke="#b47c30" stroke-width="0.4" stroke-linejoin="round"/>
</g>
<path d="M101.1,126.5 L126.2,141.4 M126.2,141.4 L100.5,155.4 M100.5,155.4 L101.1,126.5" stroke="#e2b474" stroke-width="0.6" fill="none" opacity="0.85"/>
<polygon points="101.1,126.5 112.5,132.4 126.2,141.4 111.9,161.3 100.5,155.4 86.8,146.4" fill="none" stroke="#c89a50" stroke-width="0.5" stroke-linejoin="round"/>
<circle cx="101.1" cy="126.5" r="2.75" fill="url(#fl)"/>
<circle cx="112.5" cy="132.4" r="2.75" fill="url(#fl)"/>
<circle cx="126.2" cy="141.4" r="2.75" fill="url(#fl)"/>
<circle cx="111.9" cy="161.3" r="2.75" fill="url(#fl)"/>
<circle cx="100.5" cy="155.4" r="2.75" fill="url(#fl)"/>
<circle cx="86.8" cy="146.4" r="2.75" fill="url(#fl)"/>
<g opacity="0.97">
<polygon points="75.6,259.8 96.9,277.8 68.0,287.6" fill="#aa7026" stroke="#aa7026" stroke-width="0.4" stroke-linejoin="round"/>
<polygon points="75.6,259.8 97.4,272.2 96.9,277.8" fill="#c48c40" stroke="#c48c40" stroke-width="0.4" stroke-linejoin="round"/>
<polygon points="96.9,277.8 89.8,300.1 68.0,287.6" fill="#905c1c" stroke="#905c1c" stroke-width="0.4" stroke-linejoin="round"/>
<polygon points="68.0,287.6 68.5,282.1 75.6,259.8" fill="#b47c30" stroke="#b47c30" stroke-width="0.4" stroke-linejoin="round"/>
</g>
<path d="M75.6,259.8 L96.9,277.8 M96.9,277.8 L68.0,287.6 M68.0,287.6 L75.6,259.8" stroke="#e2b474" stroke-width="0.6" fill="none" opacity="0.85"/>
<polygon points="75.6,259.8 97.4,272.2 96.9,277.8 89.8,300.1 68.0,287.6 68.5,282.1" fill="none" stroke="#c89a50" stroke-width="0.5" stroke-linejoin="round"/>
<circle cx="75.6" cy="259.8" r="2.75" fill="url(#fl)"/>
<circle cx="97.4" cy="272.2" r="2.75" fill="url(#fl)"/>
<circle cx="96.9" cy="277.8" r="2.75" fill="url(#fl)"/>
<circle cx="89.8" cy="300.1" r="2.75" fill="url(#fl)"/>
<circle cx="68.0" cy="287.6" r="2.75" fill="url(#fl)"/>
<circle cx="68.5" cy="282.1" r="2.75" fill="url(#fl)"/>
<circle cx="81.2" cy="169.6" r="7.8" fill="url(#na)" stroke="#0c8484" stroke-width="0.6"/>
<circle cx="201.8" cy="146.1" r="7.8" fill="url(#na)" stroke="#0c8484" stroke-width="0.6"/>
<circle cx="177.6" cy="283.7" r="7.8" fill="url(#na)" stroke="#0c8484" stroke-width="0.6"/>
<circle cx="168.1" cy="173.1" r="7.8" fill="url(#na)" stroke="#0c8484" stroke-width="0.6"/>
<circle cx="47.5" cy="188.9" r="7.8" fill="url(#na)" stroke="#0c8484" stroke-width="0.6"/>
<g opacity="0.97">
<polygon points="135.4,172.5 156.7,190.5 127.8,200.3" fill="#aa7026" stroke="#aa7026" stroke-width="0.4" stroke-linejoin="round"/>
<polygon points="135.4,172.5 157.2,185.0 156.7,190.5" fill="#c48c40" stroke="#c48c40" stroke-width="0.4" stroke-linejoin="round"/>
<polygon points="156.7,190.5 149.6,212.8 127.8,200.3" fill="#905c1c" stroke="#905c1c" stroke-width="0.4" stroke-linejoin="round"/>
<polygon points="127.8,200.3 128.3,194.8 135.4,172.5" fill="#b47c30" stroke="#b47c30" stroke-width="0.4" stroke-linejoin="round"/>
</g>
<path d="M135.4,172.5 L156.7,190.5 M156.7,190.5 L127.8,200.3 M127.8,200.3 L135.4,172.5" stroke="#e2b474" stroke-width="0.6" fill="none" opacity="0.85"/>
<polygon points="135.4,172.5 157.2,185.0 156.7,190.5 149.6,212.8 127.8,200.3 128.3,194.8" fill="none" stroke="#c89a50" stroke-width="0.5" stroke-linejoin="round"/>
<circle cx="135.4" cy="172.5" r="2.75" fill="url(#fl)"/>
<circle cx="157.2" cy="185.0" r="2.75" fill="url(#fl)"/>
<circle cx="156.7" cy="190.5" r="2.75" fill="url(#fl)"/>
<circle cx="149.6" cy="212.8" r="2.75" fill="url(#fl)"/>
<circle cx="127.8" cy="200.3" r="2.75" fill="url(#fl)"/>
<circle cx="128.3" cy="194.8" r="2.75" fill="url(#fl)"/>
<circle cx="237.4" cy="196.4" r="7.8" fill="url(#na)" stroke="#0c8484" stroke-width="0.6"/>
<circle cx="113.8" cy="214.3" r="7.8" fill="url(#na)" stroke="#0c8484" stroke-width="0.6"/>
<circle cx="206.7" cy="219.6" r="7.8" fill="url(#na)" stroke="#0c8484" stroke-width="0.6"/>
<circle cx="107.3" cy="101.6" r="7.8" fill="url(#na)" stroke="#0c8484" stroke-width="0.6"/>
<circle cx="83.8" cy="236.1" r="7.8" fill="url(#na)" stroke="#0c8484" stroke-width="0.6"/>
<g opacity="0.97">
<polygon points="195.2,85.1 216.4,103.1 187.6,113.0" fill="#aa7026" stroke="#aa7026" stroke-width="0.4" stroke-linejoin="round"/>
<polygon points="195.2,85.1 216.9,97.6 216.4,103.1" fill="#c48c40" stroke="#c48c40" stroke-width="0.4" stroke-linejoin="round"/>
<polygon points="216.4,103.1 209.3,125.5 187.6,113.0" fill="#905c1c" stroke="#905c1c" stroke-width="0.4" stroke-linejoin="round"/>
<polygon points="187.6,113.0 188.1,107.5 195.2,85.1" fill="#b47c30" stroke="#b47c30" stroke-width="0.4" stroke-linejoin="round"/>
</g>
<path d="M195.2,85.1 L216.4,103.1 M216.4,103.1 L187.6,113.0 M187.6,113.0 L195.2,85.1" stroke="#e2b474" stroke-width="0.6" fill="none" opacity="0.85"/>
<polygon points="195.2,85.1 216.9,97.6 216.4,103.1 209.3,125.5 187.6,113.0 188.1,107.5" fill="none" stroke="#c89a50" stroke-width="0.5" stroke-linejoin="round"/>
<circle cx="195.2" cy="85.1" r="2.75" fill="url(#fl)"/>
<circle cx="216.9" cy="97.6" r="2.75" fill="url(#fl)"/>
<circle cx="216.4" cy="103.1" r="2.75" fill="url(#fl)"/>
<circle cx="209.3" cy="125.5" r="2.75" fill="url(#fl)"/>
<circle cx="187.6" cy="113.0" r="2.75" fill="url(#fl)"/>
<circle cx="188.1" cy="107.5" r="2.75" fill="url(#fl)"/>
<circle cx="76.6" cy="124.8" r="7.8" fill="url(#na)" stroke="#0c8484" stroke-width="0.6"/>
<g opacity="0.97">
<polygon points="173.0,224.0 198.1,238.9 172.4,252.9" fill="#aa7026" stroke="#aa7026" stroke-width="0.4" stroke-linejoin="round"/>
<polygon points="173.0,224.0 184.4,229.9 198.1,238.9" fill="#c48c40" stroke="#c48c40" stroke-width="0.4" stroke-linejoin="round"/>
<polygon points="198.1,238.9 183.8,258.8 172.4,252.9" fill="#905c1c" stroke="#905c1c" stroke-width="0.4" stroke-linejoin="round"/>
<polygon points="172.4,252.9 158.7,243.9 173.0,224.0" fill="#b47c30" stroke="#b47c30" stroke-width="0.4" stroke-linejoin="round"/>
</g>
<path d="M173.0,224.0 L198.1,238.9 M198.1,238.9 L172.4,252.9 M172.4,252.9 L173.0,224.0" stroke="#e2b474" stroke-width="0.6" fill="none" opacity="0.85"/>
<polygon points="173.0,224.0 184.4,229.9 198.1,238.9 183.8,258.8 172.4,252.9 158.7,243.9" fill="none" stroke="#c89a50" stroke-width="0.5" stroke-linejoin="round"/>
<circle cx="173.0" cy="224.0" r="2.75" fill="url(#fl)"/>
<circle cx="184.4" cy="229.9" r="2.75" fill="url(#fl)"/>
<circle cx="198.1" cy="238.9" r="2.75" fill="url(#fl)"/>
<circle cx="183.8" cy="258.8" r="2.75" fill="url(#fl)"/>
<circle cx="172.4" cy="252.9" r="2.75" fill="url(#fl)"/>
<circle cx="158.7" cy="243.9" r="2.75" fill="url(#fl)"/>
<circle cx="173.6" cy="127.0" r="7.8" fill="url(#na)" stroke="#0c8484" stroke-width="0.6"/>
<g opacity="0.86">
<polygon points="42.9,129.2 68.0,144.1 42.3,158.1" fill="#aa7026" stroke="#aa7026" stroke-width="0.4" stroke-linejoin="round"/>
<polygon points="42.9,129.2 54.3,135.1 68.0,144.1" fill="#c48c40" stroke="#c48c40" stroke-width="0.4" stroke-linejoin="round"/>
<polygon points="68.0,144.1 53.7,164.0 42.3,158.1" fill="#905c1c" stroke="#905c1c" stroke-width="0.4" stroke-linejoin="round"/>
<polygon points="42.3,158.1 28.6,149.1 42.9,129.2" fill="#b47c30" stroke="#b47c30" stroke-width="0.4" stroke-linejoin="round"/>
</g>
<path d="M42.9,129.2 L68.0,144.1 M68.0,144.1 L42.3,158.1 M42.3,158.1 L42.9,129.2" stroke="#e2b474" stroke-width="0.6" fill="none" opacity="0.85"/>
<polygon points="42.9,129.2 54.3,135.1 68.0,144.1 53.7,164.0 42.3,158.1 28.6,149.1" fill="none" stroke="#c89a50" stroke-width="0.5" stroke-linejoin="round"/>
<circle cx="42.9" cy="129.2" r="2.75" fill="url(#fl)"/>
<circle cx="54.3" cy="135.1" r="2.75" fill="url(#fl)"/>
<circle cx="68.0" cy="144.1" r="2.75" fill="url(#fl)"/>
<circle cx="53.7" cy="164.0" r="2.75" fill="url(#fl)"/>
<circle cx="42.3" cy="158.1" r="2.75" fill="url(#fl)"/>
<circle cx="28.6" cy="149.1" r="2.75" fill="url(#fl)"/>
<circle cx="143.6" cy="148.8" r="7.8" fill="url(#na)" stroke="#0c8484" stroke-width="0.6"/>
<circle cx="119.4" cy="286.4" r="7.8" fill="url(#na)" stroke="#0c8484" stroke-width="0.6"/>
<g opacity="0.97">
<polygon points="232.8,136.7 257.9,151.6 232.2,165.6" fill="#aa7026" stroke="#aa7026" stroke-width="0.4" stroke-linejoin="round"/>
<polygon points="232.8,136.7 244.2,142.6 257.9,151.6" fill="#c48c40" stroke="#c48c40" stroke-width="0.4" stroke-linejoin="round"/>
<polygon points="257.9,151.6 243.6,171.5 232.2,165.6" fill="#905c1c" stroke="#905c1c" stroke-width="0.4" stroke-linejoin="round"/>
<polygon points="232.2,165.6 218.5,156.6 232.8,136.7" fill="#b47c30" stroke="#b47c30" stroke-width="0.4" stroke-linejoin="round"/>
</g>
<path d="M232.8,136.7 L257.9,151.6 M257.9,151.6 L232.2,165.6 M232.2,165.6 L232.8,136.7" stroke="#e2b474" stroke-width="0.6" fill="none" opacity="0.85"/>
<polygon points="232.8,136.7 244.2,142.6 257.9,151.6 243.6,171.5 232.2,165.6 218.5,156.6" fill="none" stroke="#c89a50" stroke-width="0.5" stroke-linejoin="round"/>
<circle cx="232.8" cy="136.7" r="2.75" fill="url(#fl)"/>
<circle cx="244.2" cy="142.6" r="2.75" fill="url(#fl)"/>
<circle cx="257.9" cy="151.6" r="2.75" fill="url(#fl)"/>
<circle cx="243.6" cy="171.5" r="2.75" fill="url(#fl)"/>
<circle cx="232.2" cy="165.6" r="2.75" fill="url(#fl)"/>
<circle cx="218.5" cy="156.6" r="2.75" fill="url(#fl)"/>
<circle cx="109.9" cy="175.8" r="7.8" fill="url(#na)" stroke="#0c8484" stroke-width="0.6"/>
<g opacity="0.97">
<polygon points="77.2,175.2 98.5,193.2 69.5,203.0" fill="#aa7026" stroke="#aa7026" stroke-width="0.4" stroke-linejoin="round"/>
<polygon points="77.2,175.2 99.0,187.7 98.5,193.2" fill="#c48c40" stroke="#c48c40" stroke-width="0.4" stroke-linejoin="round"/>
<polygon points="98.5,193.2 91.3,215.5 69.5,203.0" fill="#905c1c" stroke="#905c1c" stroke-width="0.4" stroke-linejoin="round"/>
<polygon points="69.5,203.0 70.0,197.5 77.2,175.2" fill="#b47c30" stroke="#b47c30" stroke-width="0.4" stroke-linejoin="round"/>
</g>
<path d="M77.2,175.2 L98.5,193.2 M98.5,193.2 L69.5,203.0 M69.5,203.0 L77.2,175.2" stroke="#e2b474" stroke-width="0.6" fill="none" opacity="0.85"/>
<polygon points="77.2,175.2 99.0,187.7 98.5,193.2 91.3,215.5 69.5,203.0 70.0,197.5" fill="none" stroke="#c89a50" stroke-width="0.5" stroke-linejoin="round"/>
<circle cx="77.2" cy="175.2" r="2.75" fill="url(#fl)"/>
<circle cx="99.0" cy="187.7" r="2.75" fill="url(#fl)"/>
<circle cx="98.5" cy="193.2" r="2.75" fill="url(#fl)"/>
<circle cx="91.3" cy="215.5" r="2.75" fill="url(#fl)"/>
<circle cx="69.5" cy="203.0" r="2.75" fill="url(#fl)"/>
<circle cx="70.0" cy="197.5" r="2.75" fill="url(#fl)"/>
<circle cx="179.2" cy="199.1" r="7.8" fill="url(#na)" stroke="#0c8484" stroke-width="0.6"/>
<circle cx="55.6" cy="217.0" r="7.8" fill="url(#na)" stroke="#0c8484" stroke-width="0.6"/>
<circle cx="148.5" cy="222.3" r="7.8" fill="url(#na)" stroke="#0c8484" stroke-width="0.6"/>
<circle cx="49.1" cy="104.3" r="7.8" fill="url(#na)" stroke="#0c8484" stroke-width="0.6"/>
<g opacity="0.97">
<polygon points="137.0,87.9 158.2,105.9 129.4,115.8" fill="#aa7026" stroke="#aa7026" stroke-width="0.4" stroke-linejoin="round"/>
<polygon points="137.0,87.9 158.8,100.4 158.2,105.9" fill="#c48c40" stroke="#c48c40" stroke-width="0.4" stroke-linejoin="round"/>
<polygon points="158.2,105.9 151.2,128.2 129.4,115.8" fill="#905c1c" stroke="#905c1c" stroke-width="0.4" stroke-linejoin="round"/>
<polygon points="129.4,115.8 129.9,110.3 137.0,87.9" fill="#b47c30" stroke="#b47c30" stroke-width="0.4" stroke-linejoin="round"/>
</g>
<path d="M137.0,87.9 L158.2,105.9 M158.2,105.9 L129.4,115.8 M129.4,115.8 L137.0,87.9" stroke="#e2b474" stroke-width="0.6" fill="none" opacity="0.85"/>
<polygon points="137.0,87.9 158.8,100.4 158.2,105.9 151.2,128.2 129.4,115.8 129.9,110.3" fill="none" stroke="#c89a50" stroke-width="0.5" stroke-linejoin="round"/>
<circle cx="137.0" cy="87.9" r="2.75" fill="url(#fl)"/>
<circle cx="158.8" cy="100.4" r="2.75" fill="url(#fl)"/>
<circle cx="158.2" cy="105.9" r="2.75" fill="url(#fl)"/>
<circle cx="151.2" cy="128.2" r="2.75" fill="url(#fl)"/>
<circle cx="129.4" cy="115.8" r="2.75" fill="url(#fl)"/>
<circle cx="129.9" cy="110.3" r="2.75" fill="url(#fl)"/>
<g opacity="0.97">
<polygon points="114.8,226.7 139.9,241.6 114.2,255.6" fill="#aa7026" stroke="#aa7026" stroke-width="0.4" stroke-linejoin="round"/>
<polygon points="114.8,226.7 126.2,232.6 139.9,241.6" fill="#c48c40" stroke="#c48c40" stroke-width="0.4" stroke-linejoin="round"/>
<polygon points="139.9,241.6 125.6,261.5 114.2,255.6" fill="#905c1c" stroke="#905c1c" stroke-width="0.4" stroke-linejoin="round"/>
<polygon points="114.2,255.6 100.5,246.6 114.8,226.7" fill="#b47c30" stroke="#b47c30" stroke-width="0.4" stroke-linejoin="round"/>
</g>
<path d="M114.8,226.7 L139.9,241.6 M139.9,241.6 L114.2,255.6 M114.2,255.6 L114.8,226.7" stroke="#e2b474" stroke-width="0.6" fill="none" opacity="0.85"/>
<polygon points="114.8,226.7 126.2,232.6 139.9,241.6 125.6,261.5 114.2,255.6 100.5,246.6" fill="none" stroke="#c89a50" stroke-width="0.5" stroke-linejoin="round"/>
<circle cx="114.8" cy="226.7" r="2.75" fill="url(#fl)"/>
<circle cx="126.2" cy="232.6" r="2.75" fill="url(#fl)"/>
<circle cx="139.9" cy="241.6" r="2.75" fill="url(#fl)"/>
<circle cx="125.6" cy="261.5" r="2.75" fill="url(#fl)"/>
<circle cx="114.2" cy="255.6" r="2.75" fill="url(#fl)"/>
<circle cx="100.5" cy="246.6" r="2.75" fill="url(#fl)"/>
<circle cx="239.0" cy="111.8" r="7.8" fill="url(#na)" stroke="#0c8484" stroke-width="0.6"/>
<circle cx="115.4" cy="129.7" r="7.8" fill="url(#na)" stroke="#0c8484" stroke-width="0.6"/>
<circle cx="208.3" cy="135.0" r="7.8" fill="url(#na)" stroke="#0c8484" stroke-width="0.6"/>
<circle cx="85.4" cy="151.5" r="7.8" fill="url(#na)" stroke="#0c8484" stroke-width="0.6"/>
<circle cx="61.2" cy="289.1" r="7.8" fill="url(#na)" stroke="#0c8484" stroke-width="0.6"/>
<g opacity="0.97">
<polygon points="174.6,139.4 199.7,154.3 174.0,168.3" fill="#aa7026" stroke="#aa7026" stroke-width="0.4" stroke-linejoin="round"/>
<polygon points="174.6,139.4 186.0,145.3 199.7,154.3" fill="#c48c40" stroke="#c48c40" stroke-width="0.4" stroke-linejoin="round"/>
<polygon points="199.7,154.3 185.4,174.2 174.0,168.3" fill="#905c1c" stroke="#905c1c" stroke-width="0.4" stroke-linejoin="round"/>
<polygon points="174.0,168.3 160.3,159.3 174.6,139.4" fill="#b47c30" stroke="#b47c30" stroke-width="0.4" stroke-linejoin="round"/>
</g>
<path d="M174.6,139.4 L199.7,154.3 M199.7,154.3 L174.0,168.3 M174.0,168.3 L174.6,139.4" stroke="#e2b474" stroke-width="0.6" fill="none" opacity="0.85"/>
<polygon points="174.6,139.4 186.0,145.3 199.7,154.3 185.4,174.2 174.0,168.3 160.3,159.3" fill="none" stroke="#c89a50" stroke-width="0.5" stroke-linejoin="round"/>
<circle cx="174.6" cy="139.4" r="2.75" fill="url(#fl)"/>
<circle cx="186.0" cy="145.3" r="2.75" fill="url(#fl)"/>
<circle cx="199.7" cy="154.3" r="2.75" fill="url(#fl)"/>
<circle cx="185.4" cy="174.2" r="2.75" fill="url(#fl)"/>
<circle cx="174.0" cy="168.3" r="2.75" fill="url(#fl)"/>
<circle cx="160.3" cy="159.3" r="2.75" fill="url(#fl)"/>
<circle cx="121.0" cy="201.8" r="7.8" fill="url(#na)" stroke="#0c8484" stroke-width="0.6"/>
<circle cx="90.3" cy="225.0" r="7.8" fill="url(#na)" stroke="#0c8484" stroke-width="0.6"/>
<g opacity="0.97">
<polygon points="78.8,90.5 100.0,108.5 71.1,118.5" fill="#aa7026" stroke="#aa7026" stroke-width="0.4" stroke-linejoin="round"/>
<polygon points="78.8,90.5 100.5,103.0 100.0,108.5" fill="#c48c40" stroke="#c48c40" stroke-width="0.4" stroke-linejoin="round"/>
<polygon points="100.0,108.5 92.9,130.9 71.1,118.5" fill="#905c1c" stroke="#905c1c" stroke-width="0.4" stroke-linejoin="round"/>
<polygon points="71.1,118.5 71.6,113.0 78.8,90.5" fill="#b47c30" stroke="#b47c30" stroke-width="0.4" stroke-linejoin="round"/>
</g>
<path d="M78.8,90.5 L100.0,108.5 M100.0,108.5 L71.1,118.5 M71.1,118.5 L78.8,90.5" stroke="#e2b474" stroke-width="0.6" fill="none" opacity="0.85"/>
<polygon points="78.8,90.5 100.5,103.0 100.0,108.5 92.9,130.9 71.1,118.5 71.6,113.0" fill="none" stroke="#c89a50" stroke-width="0.5" stroke-linejoin="round"/>
<circle cx="78.8" cy="90.5" r="2.75" fill="url(#fl)"/>
<circle cx="100.5" cy="103.0" r="2.75" fill="url(#fl)"/>
<circle cx="100.0" cy="108.5" r="2.75" fill="url(#fl)"/>
<circle cx="92.9" cy="130.9" r="2.75" fill="url(#fl)"/>
<circle cx="71.1" cy="118.5" r="2.75" fill="url(#fl)"/>
<circle cx="71.6" cy="113.0" r="2.75" fill="url(#fl)"/>
<g opacity="0.97">
<polygon points="56.6,229.4 81.7,244.3 56.0,258.3" fill="#aa7026" stroke="#aa7026" stroke-width="0.4" stroke-linejoin="round"/>
<polygon points="56.6,229.4 68.0,235.3 81.7,244.3" fill="#c48c40" stroke="#c48c40" stroke-width="0.4" stroke-linejoin="round"/>
<polygon points="81.7,244.3 67.4,264.2 56.0,258.3" fill="#905c1c" stroke="#905c1c" stroke-width="0.4" stroke-linejoin="round"/>
<polygon points="56.0,258.3 42.3,249.3 56.6,229.4" fill="#b47c30" stroke="#b47c30" stroke-width="0.4" stroke-linejoin="round"/>
</g>
<path d="M56.6,229.4 L81.7,244.3 M81.7,244.3 L56.0,258.3 M56.0,258.3 L56.6,229.4" stroke="#e2b474" stroke-width="0.6" fill="none" opacity="0.85"/>
<polygon points="56.6,229.4 68.0,235.3 81.7,244.3 67.4,264.2 56.0,258.3 42.3,249.3" fill="none" stroke="#c89a50" stroke-width="0.5" stroke-linejoin="round"/>
<circle cx="56.6" cy="229.4" r="2.75" fill="url(#fl)"/>
<circle cx="68.0" cy="235.3" r="2.75" fill="url(#fl)"/>
<circle cx="81.7" cy="244.3" r="2.75" fill="url(#fl)"/>
<circle cx="67.4" cy="264.2" r="2.75" fill="url(#fl)"/>
<circle cx="56.0" cy="258.3" r="2.75" fill="url(#fl)"/>
<circle cx="42.3" cy="249.3" r="2.75" fill="url(#fl)"/>
<circle cx="180.8" cy="114.5" r="7.8" fill="url(#na)" stroke="#0c8484" stroke-width="0.6"/>
<circle cx="57.2" cy="132.4" r="7.8" fill="url(#na)" stroke="#0c8484" stroke-width="0.6"/>
<circle cx="150.1" cy="137.7" r="7.8" fill="url(#na)" stroke="#0c8484" stroke-width="0.6"/>
<g opacity="0.97">
<polygon points="116.4,142.1 141.5,157.0 115.8,171.0" fill="#aa7026" stroke="#aa7026" stroke-width="0.4" stroke-linejoin="round"/>
<polygon points="116.4,142.1 127.8,148.0 141.5,157.0" fill="#c48c40" stroke="#c48c40" stroke-width="0.4" stroke-linejoin="round"/>
<polygon points="141.5,157.0 127.2,176.9 115.8,171.0" fill="#905c1c" stroke="#905c1c" stroke-width="0.4" stroke-linejoin="round"/>
<polygon points="115.8,171.0 102.1,162.0 116.4,142.1" fill="#b47c30" stroke="#b47c30" stroke-width="0.4" stroke-linejoin="round"/>
</g>
<path d="M116.4,142.1 L141.5,157.0 M141.5,157.0 L115.8,171.0 M115.8,171.0 L116.4,142.1" stroke="#e2b474" stroke-width="0.6" fill="none" opacity="0.85"/>
<polygon points="116.4,142.1 127.8,148.0 141.5,157.0 127.2,176.9 115.8,171.0 102.1,162.0" fill="none" stroke="#c89a50" stroke-width="0.5" stroke-linejoin="round"/>
<circle cx="116.4" cy="142.1" r="2.75" fill="url(#fl)"/>
<circle cx="127.8" cy="148.0" r="2.75" fill="url(#fl)"/>
<circle cx="141.5" cy="157.0" r="2.75" fill="url(#fl)"/>
<circle cx="127.2" cy="176.9" r="2.75" fill="url(#fl)"/>
<circle cx="115.8" cy="171.0" r="2.75" fill="url(#fl)"/>
<circle cx="102.1" cy="162.0" r="2.75" fill="url(#fl)"/>
<circle cx="62.8" cy="204.5" r="7.8" fill="url(#na)" stroke="#0c8484" stroke-width="0.6"/>
<circle cx="122.6" cy="117.2" r="7.8" fill="url(#na)" stroke="#0c8484" stroke-width="0.6"/>
<circle cx="91.9" cy="140.4" r="7.8" fill="url(#na)" stroke="#0c8484" stroke-width="0.6"/>
<g opacity="0.97">
<polygon points="58.2,144.8 83.3,159.7 57.6,173.7" fill="#aa7026" stroke="#aa7026" stroke-width="0.4" stroke-linejoin="round"/>
<polygon points="58.2,144.8 69.6,150.7 83.3,159.7" fill="#c48c40" stroke="#c48c40" stroke-width="0.4" stroke-linejoin="round"/>
<polygon points="83.3,159.7 69.0,179.6 57.6,173.7" fill="#905c1c" stroke="#905c1c" stroke-width="0.4" stroke-linejoin="round"/>
<polygon points="57.6,173.7 43.9,164.7 58.2,144.8" fill="#b47c30" stroke="#b47c30" stroke-width="0.4" stroke-linejoin="round"/>
</g>
<path d="M58.2,144.8 L83.3,159.7 M83.3,159.7 L57.6,173.7 M57.6,173.7 L58.2,144.8" stroke="#e2b474" stroke-width="0.6" fill="none" opacity="0.85"/>
<polygon points="58.2,144.8 69.6,150.7 83.3,159.7 69.0,179.6 57.6,173.7 43.9,164.7" fill="none" stroke="#c89a50" stroke-width="0.5" stroke-linejoin="round"/>
<circle cx="58.2" cy="144.8" r="2.75" fill="url(#fl)"/>
<circle cx="69.6" cy="150.7" r="2.75" fill="url(#fl)"/>
<circle cx="83.3" cy="159.7" r="2.75" fill="url(#fl)"/>
<circle cx="69.0" cy="179.6" r="2.75" fill="url(#fl)"/>
<circle cx="57.6" cy="173.7" r="2.75" fill="url(#fl)"/>
<circle cx="43.9" cy="164.7" r="2.75" fill="url(#fl)"/>
<circle cx="64.4" cy="119.9" r="7.8" fill="url(#na)" stroke="#0c8484" stroke-width="0.6"/>
<path d="M200.7,190.0 L196.2,177.4 M200.7,190.0 L209.8,185.2 M200.7,190.0 L209.5,188.6 M200.7,190.0 L205.1,202.5 M200.7,190.0 L191.5,194.7 M200.7,190.0 L191.8,191.3 " stroke="#16167e" stroke-width="2" stroke-linecap="round"/>
<circle cx="201.1" cy="189.7" r="6.9" fill="url(#tb)"/>
<text x="26.6" y="305" font-family="Liberation Serif, serif" font-weight="bold" font-size="15" text-anchor="middle">c</text>
<line x1="26.6" y1="332.5" x2="26.6" y2="314" stroke="#1c1cb8" stroke-width="1.6"/>
<polygon points="26.6,308.6 23.9,316 29.3,316" fill="#1c1cb8"/>
<line x1="27" y1="332.8" x2="45" y2="332.8" stroke="#2aa82a" stroke-width="1.6"/>
<polygon points="51.4,332.8 44,330.1 44,335.5" fill="#2aa82a"/>
<text x="53.4" y="337.6" font-family="Liberation Serif, serif" font-weight="bold" font-size="15">b</text>
<circle cx="30.6" cy="338.3" r="2.6" fill="#c01818"/>
<circle cx="25.8" cy="333.6" r="2" fill="#fff" stroke="#999" stroke-width="0.7"/>
<text x="34.8" y="347.8" font-family="Liberation Serif, serif" font-weight="bold" font-size="15">a</text>
<circle cx="82.4" cy="331.8" r="7.3" fill="url(#na)" stroke="#15a0a0" stroke-width="0.5"/>
<text x="95.3" y="337.6" font-family="Liberation Sans, sans-serif" font-size="15.4">Na</text>
<circle cx="140.8" cy="331.8" r="3.6" fill="url(#fe3)"/>
<text x="151" y="337.6" font-family="Liberation Sans, sans-serif" font-size="15.4">Fe</text>
<circle cx="188.8" cy="332.5" r="2.1" fill="url(#fl)"/>
<text x="197.3" y="337.6" font-family="Liberation Sans, sans-serif" font-size="15.4">F</text>
<circle cx="226.7" cy="333.3" r="4.8" fill="url(#tb)"/>
<text x="236" y="338" font-family="Liberation Sans, sans-serif" font-size="15.4">Tb</text>

<polyline points="321.5,147.8 322.0,147.8 322.5,147.8 323.0,147.8 323.5,147.8 324.0,147.8 324.5,147.8 325.0,147.7 325.5,147.7 326.0,147.7 326.5,147.7 327.0,147.7 327.5,147.7 328.0,147.7 328.5,147.7 329.0,147.7 329.5,147.7 330.0,147.7 330.5,147.7 331.0,147.7 331.5,147.7 332.0,147.6 332.5,147.6 333.0,147.6 333.5,147.6 334.0,147.6 334.5,147.6 335.0,147.5 335.5,147.5 336.0,147.5 336.5,147.4 337.0,147.1 337.5,146.6 338.0,146.0 338.5,145.3 339.0,144.5 339.5,143.8 340.0,143.0 340.5,142.2 341.0,141.2 341.5,140.1 342.0,138.9 342.5,137.6 343.0,136.4 343.5,135.2 344.0,134.0 344.5,132.8 345.0,131.6 345.5,130.3 346.0,129.0 346.5,127.8 347.0,126.7 347.5,125.8 348.0,125.0 348.5,124.3 349.0,123.7 349.5,123.1 350.0,122.6 350.5,122.1 351.0,121.8 351.5,121.7 352.0,121.8 352.5,122.1 353.0,122.7 353.5,123.4 354.0,124.2 354.5,125.1 355.0,126.0 355.5,127.2 356.0,128.7 356.5,130.5 357.0,132.5 357.5,134.5 358.0,136.4 358.5,138.0 359.0,139.5 359.5,141.0 360.0,142.5 360.5,144.0 361.0,145.2 361.5,146.2 362.0,147.0 362.5,147.6 363.0,148.1 363.5,148.6 364.0,149.1 364.5,149.5 365.0,149.8 365.5,149.9 366.0,150.0 366.5,150.0 367.0,150.0 367.5,150.0 368.0,150.0 368.5,150.0 369.0,150.0 369.5,150.0 370.0,150.0 370.5,150.0 371.0,150.0 371.5,150.0 372.0,150.0 372.5,150.0 373.0,150.0 373.5,150.0 374.0,150.0 374.5,150.0 375.0,150.0 375.5,150.0 376.0,150.0 376.5,150.0 377.0,150.0 377.5,150.0 378.0,150.0 378.5,150.0 379.0,150.0 379.5,150.0 380.0,150.0 380.5,150.0 381.0,150.0 381.5,150.0 382.0,149.9 382.5,149.9 383.0,149.8 383.5,149.8 384.0,149.7 384.5,149.7 385.0,149.6 385.5,149.5 386.0,149.4 386.5,149.3 387.0,149.2 387.5,149.1 388.0,149.0 388.5,148.9 389.0,148.7 389.5,148.4 390.0,148.1 390.5,147.8 391.0,147.5 391.5,147.2 392.0,146.8 392.5,146.4 393.0,146.0 393.5,145.5 394.0,145.0 394.5,144.4 395.0,143.7 395.5,142.9 396.0,142.2 396.5,141.5 397.0,140.9 397.5,140.2 398.0,139.7 398.5,139.5 399.0,139.6 399.5,139.8 400.0,140.2 400.5,140.5 401.0,140.9 401.5,141.4 402.0,142.0 402.5,142.6 403.0,143.0 403.5,143.4 404.0,143.8 404.5,144.2 405.0,144.4 405.5,144.5 406.0,144.5 406.5,144.5 407.0,144.5 407.5,144.4 408.0,144.4 408.5,144.2 409.0,143.9 409.5,143.7 410.0,143.5 410.5,143.3 411.0,143.1 411.5,143.0 412.0,142.8 412.5,142.8 413.0,143.0 413.5,143.4 414.0,143.9 414.5,144.3 415.0,144.6 415.5,144.9 416.0,145.3 416.5,145.6 417.0,145.9 417.5,146.2 418.0,146.4 418.5,146.6 419.0,146.7 419.5,146.8 420.0,146.7 420.5,146.5 421.0,146.2 421.5,145.8 422.0,145.3 422.5,144.8 423.0,144.3 423.5,143.9 424.0,143.5 424.5,143.2 425.0,142.8 425.5,142.5 426.0,142.2 426.5,141.9 427.0,141.5 427.5,141.2 428.0,140.9 428.5,140.6 429.0,140.3 429.5,139.9 430.0,139.6 430.5,139.2 431.0,138.8 431.5,138.5 432.0,138.2 432.5,138.0 433.0,137.8 433.5,137.7 434.0,137.6 434.5,137.5 435.0,137.4 435.5,137.2 436.0,137.0 436.5,136.7 437.0,136.3 437.5,135.7 438.0,135.1 438.5,134.5 439.0,133.8 439.5,133.1 440.0,132.4 440.5,132.0 441.0,132.1 441.5,132.5 442.0,133.0 442.5,133.5 443.0,133.9 443.5,134.3 444.0,134.7 444.5,135.1 445.0,135.5 445.5,136.0 446.0,136.4 446.5,136.9 447.0,137.5 447.5,138.2 448.0,138.9 448.5,139.7 449.0,140.4 449.5,141.0 450.0,141.6 450.5,142.1 451.0,142.6 451.5,143.1 452.0,143.5 452.5,143.9 453.0,144.3 453.5,144.7 454.0,144.9 454.5,145.0 455.0,144.7 455.5,144.1 456.0,143.1 456.5,142.0 457.0,141.0 457.5,139.8 458.0,138.5 458.5,137.1 459.0,136.0 459.5,135.0 460.0,134.0 460.5,133.3 461.0,133.1 461.5,133.5 462.0,134.2 462.5,135.1 463.0,136.5 463.5,139.1 464.0,141.8 464.5,143.0 465.0,142.8 465.5,142.2 466.0,141.5 466.5,140.5 467.0,138.9 467.5,137.0 468.0,135.1 468.5,133.2 469.0,131.6 469.5,130.3 470.0,129.1 470.5,128.1 471.0,127.0 471.5,126.1 472.0,125.1 472.5,124.1 473.0,123.0 473.5,121.9 474.0,120.8 474.5,119.7 475.0,118.5 475.5,117.4 476.0,116.3 476.5,115.1 477.0,114.0 477.5,112.8 478.0,111.6 478.5,110.4 479.0,109.2 479.5,108.0 480.0,106.9 480.5,105.9 481.0,105.0 481.5,104.1 482.0,103.2 482.5,102.3 483.0,101.6 483.5,101.1 484.0,100.9 484.5,101.1 485.0,101.6 485.5,102.4 486.0,103.4 486.5,104.5 487.0,106.2 487.5,108.4 488.0,111.2 488.5,114.3 489.0,118.4 489.5,124.3 490.0,130.8 490.5,136.6 491.0,140.7 491.5,143.8 492.0,146.8 492.5,149.2 493.0,151.0 493.5,152.0 494.0,152.4 494.5,152.8 495.0,153.2 495.5,153.5 496.0,153.8 496.5,154.0 497.0,154.2 497.5,154.4 498.0,154.6 498.5,154.7 499.0,154.8 499.5,154.9 500.0,155.0 500.5,155.1 501.0,155.2 501.5,155.2 502.0,155.3 502.5,155.4 503.0,155.4 503.5,155.5 504.0,155.5 504.5,155.6 505.0,155.6 505.5,155.7 506.0,155.7 506.5,155.8 507.0,155.8 507.5,155.8 508.0,155.9 508.5,155.9 509.0,155.9 509.5,156.0 510.0,156.0 510.5,156.0 511.0,156.1 511.5,156.1 512.0,156.1 512.5,156.2 513.0,156.2 513.5,156.2 514.0,156.3 514.5,156.3 515.0,156.3 515.5,156.4 516.0,156.4 516.5,156.4 517.0,156.4 517.5,156.5 518.0,156.5 518.5,156.5 519.0,156.5 519.5,156.5 520.0,156.5 520.5,156.5 521.0,156.4 521.5,156.3 522.0,156.1 522.5,156.0 523.0,155.8 523.5,155.6 524.0,155.5 524.5,155.4 525.0,155.2 525.5,155.0 526.0,154.9 526.5,154.7 527.0,154.6 527.5,154.5 528.0,154.4 528.5,154.3 529.0,154.2 529.5,154.1 530.0,154.1 530.5,154.0 531.0,154.0 531.5,154.1 532.0,154.4 532.5,154.7 533.0,155.0 533.5,155.3 534.0,155.6 534.5,155.9" fill="none" stroke="#1e1e1e" stroke-width="1.9" stroke-linejoin="round"/>
<polyline points="321.5,147.5 322.0,147.5 322.5,147.5 323.0,147.5 323.5,147.5 324.0,147.5 324.5,147.5 325.0,147.5 325.5,147.5 326.0,147.5 326.5,147.5 327.0,147.4 327.5,147.4 328.0,147.4 328.5,147.4 329.0,147.4 329.5,147.4 330.0,147.4 330.5,147.4 331.0,147.4 331.5,147.4 332.0,147.4 332.5,147.4 333.0,147.4 333.5,147.4 334.0,147.4 334.5,147.3 335.0,147.3 335.5,147.3 336.0,147.3 336.5,147.2 337.0,146.8 337.5,146.2 338.0,145.5 338.5,144.6 339.0,143.8 339.5,142.9 340.0,142.0 340.5,141.1 341.0,140.0 341.5,138.9 342.0,137.7 342.5,136.4 343.0,135.2 343.5,134.0 344.0,133.0 344.5,132.0 345.0,130.9 345.5,129.9 346.0,128.9 346.5,128.0 347.0,127.1 347.5,126.5 348.0,126.0 348.5,125.6 349.0,125.3 349.5,125.0 350.0,124.7 350.5,124.5 351.0,124.4 351.5,124.3 352.0,124.4 352.5,124.7 353.0,125.1 353.5,125.7 354.0,126.4 354.5,127.2 355.0,128.0 355.5,129.0 356.0,130.5 356.5,132.1 357.0,134.0 357.5,135.8 358.0,137.5 358.5,139.0 359.0,140.4 359.5,141.7 360.0,143.1 360.5,144.3 361.0,145.4 361.5,146.4 362.0,147.0 362.5,147.5 363.0,147.9 363.5,148.4 364.0,148.7 364.5,149.1 365.0,149.3 365.5,149.4 366.0,149.5 366.5,149.5 367.0,149.5 367.5,149.5 368.0,149.5 368.5,149.5 369.0,149.5 369.5,149.5 370.0,149.5 370.5,149.5 371.0,149.5 371.5,149.5 372.0,149.5 372.5,149.5 373.0,149.5 373.5,149.5 374.0,149.5 374.5,149.5 375.0,149.5 375.5,149.5 376.0,149.5 376.5,149.5 377.0,149.5 377.5,149.5 378.0,149.5 378.5,149.5 379.0,149.5 379.5,149.5 380.0,149.5 380.5,149.5 381.0,149.5 381.5,149.5 382.0,149.5 382.5,149.4 383.0,149.4 383.5,149.4 384.0,149.3 384.5,149.3 385.0,149.2 385.5,149.2 386.0,149.1 386.5,149.0 387.0,149.0 387.5,148.9 388.0,148.8 388.5,148.6 389.0,148.4 389.5,148.0 390.0,147.6 390.5,147.1 391.0,146.5 391.5,145.8 392.0,144.7 392.5,143.5 393.0,142.1 393.5,140.6 394.0,139.0 394.5,137.0 395.0,134.6 395.5,132.1 396.0,129.8 396.5,128.0 397.0,126.6 397.5,125.3 398.0,124.4 398.5,124.0 399.0,124.3 399.5,125.0 400.0,126.0 400.5,127.0 401.0,128.3 401.5,130.1 402.0,132.0 402.5,133.9 403.0,135.5 403.5,136.9 404.0,138.3 404.5,139.6 405.0,140.5 405.5,141.0 406.0,141.2 406.5,141.3 407.0,141.4 407.5,141.5 408.0,141.4 408.5,140.9 409.0,140.2 409.5,139.4 410.0,139.0 410.5,138.8 411.0,138.6 411.5,138.4 412.0,138.3 412.5,138.3 413.0,138.8 413.5,139.7 414.0,140.8 414.5,141.7 415.0,142.2 415.5,142.5 416.0,142.9 416.5,143.2 417.0,143.4 417.5,143.6 418.0,143.8 418.5,143.8 419.0,143.7 419.5,143.6 420.0,143.3 420.5,143.0 421.0,142.6 421.5,142.1 422.0,141.5 422.5,140.9 423.0,140.3 423.5,139.6 424.0,138.9 424.5,138.2 425.0,137.5 425.5,136.7 426.0,135.7 426.5,134.6 427.0,133.4 427.5,132.1 428.0,130.7 428.5,129.2 429.0,127.6 429.5,126.0 430.0,124.4 430.5,122.8 431.0,121.2 431.5,119.4 432.0,117.5 432.5,115.6 433.0,113.6 433.5,111.5 434.0,109.4 434.5,107.4 435.0,105.3 435.5,103.2 436.0,101.0 436.5,98.7 437.0,96.6 437.5,94.6 438.0,93.0 438.5,91.6 439.0,90.2 439.5,89.0 440.0,88.1 440.5,87.5 441.0,87.7 441.5,88.5 442.0,89.9 442.5,91.5 443.0,93.0 443.5,94.4 444.0,95.9 444.5,97.4 445.0,99.0 445.5,100.7 446.0,102.3 446.5,104.0 447.0,105.8 447.5,107.7 448.0,109.6 448.5,111.4 449.0,113.2 449.5,114.9 450.0,116.5 450.5,118.0 451.0,119.4 451.5,120.8 452.0,122.1 452.5,123.3 453.0,124.4 453.5,125.3 454.0,126.2 454.5,127.1 455.0,127.9 455.5,128.5 456.0,128.9 456.5,128.5 457.0,124.0 457.5,118.5 458.0,113.3 458.5,107.6 459.0,102.4 459.5,98.5 460.0,95.6 460.5,92.9 461.0,90.9 461.5,90.2 462.0,90.8 462.5,92.5 463.0,94.8 463.5,97.5 464.0,101.6 464.5,107.4 465.0,113.5 465.5,118.5 466.0,122.7 466.5,126.4 467.0,128.0 467.5,127.6 468.0,126.6 468.5,125.3 469.0,124.0 469.5,122.6 470.0,121.0 470.5,119.3 471.0,117.5 471.5,115.7 472.0,114.0 472.5,112.4 473.0,110.9 473.5,109.4 474.0,107.9 474.5,106.4 475.0,104.9 475.5,103.4 476.0,102.0 476.5,100.5 477.0,99.1 477.5,97.6 478.0,96.1 478.5,94.7 479.0,93.4 479.5,92.1 480.0,91.0 480.5,89.9 481.0,88.8 481.5,87.6 482.0,86.5 482.5,85.6 483.0,84.9 483.5,84.4 484.0,84.2 484.5,84.6 485.0,85.6 485.5,87.1 486.0,88.9 486.5,90.8 487.0,93.5 487.5,96.9 488.0,100.8 488.5,105.1 489.0,110.3 489.5,117.1 490.0,124.3 490.5,130.9 491.0,135.8 491.5,140.0 492.0,143.9 492.5,147.3 493.0,149.7 493.5,151.0 494.0,151.5 494.5,152.0 495.0,152.4 495.5,152.8 496.0,153.1 496.5,153.4 497.0,153.6 497.5,153.8 498.0,154.0 498.5,154.2 499.0,154.3 499.5,154.4 500.0,154.5 500.5,154.6 501.0,154.7 501.5,154.7 502.0,154.8 502.5,154.9 503.0,154.9 503.5,155.0 504.0,155.0 504.5,155.1 505.0,155.1 505.5,155.2 506.0,155.2 506.5,155.3 507.0,155.3 507.5,155.3 508.0,155.4 508.5,155.4 509.0,155.4 509.5,155.5 510.0,155.5 510.5,155.5 511.0,155.6 511.5,155.6 512.0,155.6 512.5,155.7 513.0,155.7 513.5,155.7 514.0,155.8 514.5,155.8 515.0,155.8 515.5,155.9 516.0,155.9 516.5,155.9 517.0,155.9 517.5,156.0 518.0,156.0 518.5,156.0 519.0,156.0 519.5,156.0 520.0,156.0 520.5,156.0 521.0,155.8 521.5,155.6 522.0,155.4 522.5,155.1 523.0,154.7 523.5,154.4 524.0,154.0 524.5,153.5 525.0,152.8 525.5,152.1 526.0,151.2 526.5,150.4 527.0,149.6 527.5,149.0 528.0,148.4 528.5,147.9 529.0,147.3 529.5,146.8 530.0,146.4 530.5,146.1 531.0,146.0 531.5,146.2 532.0,146.7 532.5,147.4 533.0,148.0 533.5,148.6 534.0,149.2 534.5,149.9" fill="none" stroke="#b8283c" stroke-width="1.9" stroke-linejoin="round"/>
<polyline points="321.5,148.0 322.0,148.0 322.5,148.0 323.0,148.0 323.5,148.0 324.0,148.0 324.5,148.0 325.0,148.0 325.5,148.0 326.0,148.0 326.5,148.0 327.0,147.9 327.5,147.9 328.0,147.9 328.5,147.9 329.0,147.9 329.5,147.9 330.0,147.9 330.5,147.9 331.0,147.9 331.5,147.9 332.0,147.9 332.5,147.9 333.0,147.9 333.5,147.9 334.0,147.9 334.5,147.8 335.0,147.8 335.5,147.8 336.0,147.8 336.5,147.7 337.0,147.3 337.5,146.8 338.0,146.1 338.5,145.4 339.0,144.6 339.5,143.8 340.0,143.0 340.5,142.2 341.0,141.2 341.5,140.2 342.0,139.1 342.5,138.0 343.0,136.9 343.5,135.9 344.0,135.0 344.5,134.1 345.0,133.2 345.5,132.3 346.0,131.4 346.5,130.6 347.0,129.9 347.5,129.3 348.0,129.0 348.5,128.8 349.0,128.6 349.5,128.4 350.0,128.2 350.5,128.1 351.0,128.0 351.5,128.0 352.0,128.1 352.5,128.3 353.0,128.7 353.5,129.1 354.0,129.7 354.5,130.3 355.0,131.0 355.5,131.8 356.0,133.0 356.5,134.3 357.0,135.8 357.5,137.2 358.0,138.7 358.5,140.0 359.0,141.3 359.5,142.7 360.0,144.0 360.5,145.3 361.0,146.5 361.5,147.4 362.0,148.0 362.5,148.4 363.0,148.8 363.5,149.1 364.0,149.4 364.5,149.7 365.0,149.8 365.5,150.0 366.0,150.0 366.5,150.0 367.0,150.0 367.5,150.0 368.0,150.0 368.5,150.0 369.0,150.0 369.5,150.0 370.0,150.0 370.5,150.0 371.0,150.0 371.5,150.0 372.0,150.0 372.5,150.0 373.0,150.0 373.5,150.0 374.0,150.0 374.5,150.0 375.0,150.0 375.5,150.0 376.0,150.0 376.5,150.0 377.0,150.0 377.5,150.0 378.0,150.0 378.5,150.0 379.0,150.0 379.5,150.0 380.0,150.0 380.5,150.0 381.0,150.0 381.5,150.0 382.0,149.9 382.5,149.9 383.0,149.8 383.5,149.8 384.0,149.7 384.5,149.7 385.0,149.6 385.5,149.5 386.0,149.4 386.5,149.3 387.0,149.2 387.5,149.1 388.0,149.0 388.5,148.8 389.0,148.6 389.5,148.3 390.0,147.9 390.5,147.5 391.0,147.0 391.5,146.5 392.0,145.8 392.5,145.0 393.0,144.1 393.5,143.1 394.0,142.0 394.5,140.5 395.0,138.5 395.5,136.4 396.0,134.5 396.5,133.0 397.0,131.9 397.5,130.9 398.0,130.1 398.5,129.8 399.0,130.0 399.5,130.5 400.0,131.2 400.5,132.0 401.0,132.9 401.5,134.2 402.0,135.6 402.5,136.9 403.0,138.0 403.5,139.0 404.0,140.0 404.5,140.9 405.0,141.6 405.5,142.0 406.0,142.2 406.5,142.3 407.0,142.4 407.5,142.5 408.0,142.4 408.5,142.2 409.0,141.7 409.5,141.3 410.0,141.0 410.5,140.8 411.0,140.5 411.5,140.4 412.0,140.2 412.5,140.2 413.0,140.5 413.5,141.0 414.0,141.6 414.5,142.2 415.0,142.7 415.5,143.1 416.0,143.6 416.5,144.0 417.0,144.4 417.5,144.7 418.0,144.9 418.5,145.0 419.0,144.9 419.5,144.8 420.0,144.5 420.5,144.2 421.0,143.8 421.5,143.3 422.0,142.8 422.5,142.3 423.0,141.7 423.5,141.1 424.0,140.6 424.5,140.0 425.0,139.5 425.5,139.0 426.0,138.5 426.5,138.0 427.0,137.4 427.5,136.8 428.0,136.2 428.5,135.5 429.0,134.7 429.5,133.8 430.0,132.7 430.5,131.6 431.0,130.4 431.5,129.2 432.0,128.0 432.5,126.9 433.0,125.8 433.5,124.6 434.0,123.5 434.5,122.2 435.0,120.9 435.5,119.3 436.0,117.4 436.5,115.3 437.0,113.3 437.5,111.4 438.0,110.0 438.5,108.9 439.0,107.7 439.5,106.8 440.0,106.0 440.5,105.6 441.0,105.7 441.5,106.2 442.0,107.1 442.5,108.0 443.0,109.0 443.5,110.0 444.0,111.2 444.5,112.5 445.0,113.8 445.5,115.1 446.0,116.2 446.5,117.2 447.0,118.1 447.5,118.9 448.0,119.8 448.5,120.5 449.0,121.3 449.5,122.0 450.0,122.7 450.5,123.3 451.0,123.9 451.5,124.5 452.0,125.1 452.5,125.7 453.0,126.4 453.5,127.2 454.0,128.1 454.5,128.8 455.0,129.4 455.5,129.5 456.0,128.3 456.5,126.0 457.0,123.2 457.5,120.3 458.0,118.0 458.5,116.1 459.0,114.1 459.5,112.2 460.0,110.6 460.5,109.6 461.0,109.3 461.5,110.1 462.0,111.7 462.5,113.8 463.0,116.0 463.5,119.2 464.0,123.0 464.5,125.8 465.0,127.3 465.5,128.5 466.0,129.0 466.5,128.5 467.0,127.3 467.5,125.9 468.0,124.5 468.5,123.4 469.0,122.4 469.5,121.5 470.0,120.6 470.5,119.7 471.0,118.8 471.5,117.9 472.0,117.0 472.5,116.1 473.0,115.2 473.5,114.3 474.0,113.4 474.5,112.5 475.0,111.6 475.5,110.7 476.0,109.8 476.5,108.9 477.0,108.0 477.5,107.0 478.0,106.0 478.5,105.0 479.0,104.0 479.5,103.0 480.0,102.1 480.5,101.2 481.0,100.5 481.5,99.8 482.0,99.1 482.5,98.5 483.0,97.9 483.5,97.5 484.0,97.4 484.5,97.6 485.0,98.3 485.5,99.2 486.0,100.3 486.5,101.5 487.0,103.2 487.5,105.5 488.0,108.2 488.5,111.3 489.0,115.5 489.5,121.5 490.0,128.2 490.5,134.3 491.0,138.7 491.5,142.4 492.0,145.8 492.5,148.8 493.0,150.9 493.5,152.0 494.0,152.5 494.5,152.9 495.0,153.2 495.5,153.5 496.0,153.8 496.5,154.0 497.0,154.2 497.5,154.4 498.0,154.6 498.5,154.7 499.0,154.8 499.5,154.9 500.0,155.0 500.5,155.1 501.0,155.2 501.5,155.2 502.0,155.3 502.5,155.4 503.0,155.4 503.5,155.5 504.0,155.5 504.5,155.6 505.0,155.6 505.5,155.7 506.0,155.7 506.5,155.8 507.0,155.8 507.5,155.8 508.0,155.9 508.5,155.9 509.0,155.9 509.5,156.0 510.0,156.0 510.5,156.0 511.0,156.1 511.5,156.1 512.0,156.1 512.5,156.2 513.0,156.2 513.5,156.2 514.0,156.3 514.5,156.3 515.0,156.3 515.5,156.4 516.0,156.4 516.5,156.4 517.0,156.4 517.5,156.5 518.0,156.5 518.5,156.5 519.0,156.5 519.5,156.5 520.0,156.5 520.5,156.5 521.0,156.3 521.5,156.1 522.0,155.8 522.5,155.5 523.0,155.2 523.5,154.8 524.0,154.5 524.5,154.1 525.0,153.7 525.5,153.1 526.0,152.6 526.5,152.0 527.0,151.5 527.5,151.0 528.0,150.5 528.5,149.9 529.0,149.4 529.5,148.8 530.0,148.4 530.5,148.1 531.0,148.0 531.5,148.2 532.0,148.7 532.5,149.4 533.0,150.0 533.5,150.6 534.0,151.2 534.5,151.9" fill="none" stroke="#2c2496" stroke-width="1.9" stroke-linejoin="round"/>
<polyline points="321.5,147.3 322.0,147.3 322.5,147.3 323.0,147.3 323.5,147.3 324.0,147.3 324.5,147.3 325.0,147.2 325.5,147.2 326.0,147.2 326.5,147.2 327.0,147.2 327.5,147.2 328.0,147.2 328.5,147.2 329.0,147.2 329.5,147.2 330.0,147.2 330.5,147.2 331.0,147.2 331.5,147.2 332.0,147.1 332.5,147.1 333.0,147.1 333.5,147.1 334.0,147.1 334.5,147.1 335.0,147.0 335.5,147.0 336.0,147.0 336.5,146.8 337.0,146.4 337.5,145.7 338.0,144.9 338.5,144.0 339.0,143.0 339.5,142.0 340.0,141.0 340.5,140.0 341.0,138.8 341.5,137.6 342.0,136.2 342.5,134.9 343.0,133.5 343.5,132.2 344.0,131.0 344.5,129.8 345.0,128.6 345.5,127.3 346.0,126.1 346.5,124.9 347.0,123.8 347.5,122.9 348.0,122.0 348.5,121.2 349.0,120.3 349.5,119.5 350.0,118.8 350.5,118.2 351.0,117.8 351.5,117.6 352.0,117.7 352.5,118.1 353.0,118.8 353.5,119.7 354.0,120.8 354.5,121.9 355.0,123.0 355.5,124.3 356.0,126.0 356.5,128.0 357.0,130.1 357.5,132.2 358.0,134.2 358.5,136.0 359.0,137.7 359.5,139.5 360.0,141.3 360.5,143.0 361.0,144.5 361.5,145.7 362.0,146.5 362.5,147.1 363.0,147.6 363.5,148.1 364.0,148.5 364.5,148.8 365.0,149.1 365.5,149.2 366.0,149.3 366.5,149.3 367.0,149.3 367.5,149.3 368.0,149.3 368.5,149.3 369.0,149.3 369.5,149.3 370.0,149.3 370.5,149.3 371.0,149.3 371.5,149.3 372.0,149.3 372.5,149.3 373.0,149.3 373.5,149.3 374.0,149.3 374.5,149.3 375.0,149.3 375.5,149.3 376.0,149.3 376.5,149.3 377.0,149.3 377.5,149.3 378.0,149.3 378.5,149.3 379.0,149.3 379.5,149.3 380.0,149.3 380.5,149.3 381.0,149.3 381.5,149.3 382.0,149.3 382.5,149.2 383.0,149.2 383.5,149.2 384.0,149.1 384.5,149.1 385.0,149.0 385.5,148.9 386.0,148.9 386.5,148.8 387.0,148.7 387.5,148.6 388.0,148.5 388.5,148.3 389.0,147.9 389.5,147.4 390.0,146.7 390.5,145.9 391.0,145.0 391.5,143.3 392.0,140.6 392.5,137.0 393.0,133.0 393.5,128.9 394.0,125.0 394.5,121.0 395.0,116.6 395.5,112.2 396.0,108.2 396.5,105.0 397.0,102.3 397.5,99.8 398.0,97.9 398.5,97.2 399.0,97.9 399.5,99.8 400.0,102.3 400.5,105.0 401.0,108.4 401.5,113.0 402.0,117.9 402.5,122.5 403.0,126.0 403.5,128.6 404.0,131.1 404.5,133.2 405.0,134.8 405.5,136.0 406.0,136.9 406.5,137.6 407.0,138.2 407.5,138.5 408.0,138.3 408.5,137.1 409.0,135.4 409.5,133.5 410.0,132.0 410.5,130.7 411.0,129.4 411.5,128.3 412.0,127.5 412.5,127.3 413.0,128.1 413.5,129.5 414.0,131.3 414.5,133.1 415.0,134.5 415.5,136.0 416.0,137.5 416.5,138.8 417.0,139.5 417.5,139.9 418.0,140.2 418.5,140.4 419.0,140.4 419.5,140.1 420.0,139.8 420.5,139.3 421.0,138.7 421.5,138.1 422.0,137.5 422.5,136.9 423.0,136.2 423.5,135.5 424.0,134.7 424.5,133.9 425.0,133.0 425.5,132.0 426.0,131.0 426.5,129.9 427.0,128.6 427.5,127.3 428.0,125.8 428.5,124.2 429.0,122.5 429.5,120.8 430.0,119.0 430.5,117.2 431.0,115.4 431.5,113.5 432.0,111.4 432.5,109.0 433.0,106.1 433.5,102.7 434.0,97.3 434.5,89.7 435.0,81.2 435.5,73.5 436.0,66.6 436.5,59.7 437.0,53.2 437.5,47.3 438.0,42.2 438.5,36.9 439.0,31.7 439.5,27.1 440.0,23.4 440.5,21.2 441.0,21.0 441.5,23.1 442.0,26.9 442.5,31.8 443.0,37.2 443.5,42.3 444.0,47.0 444.5,51.8 445.0,56.9 445.5,62.1 446.0,67.3 446.5,72.5 447.0,77.7 447.5,83.1 448.0,88.6 448.5,93.9 449.0,98.7 449.5,102.7 450.0,106.2 450.5,109.5 451.0,112.7 451.5,115.6 452.0,118.4 452.5,120.8 453.0,123.0 453.5,124.8 454.0,126.3 454.5,127.6 455.0,128.7 455.5,128.6 456.0,118.2 456.5,102.6 457.0,89.6 457.5,76.1 458.0,64.0 458.5,54.5 459.0,46.0 459.5,38.9 460.0,34.0 460.5,30.6 461.0,27.8 461.5,26.3 462.0,26.4 462.5,28.2 463.0,31.2 463.5,34.9 464.0,42.1 464.5,51.8 465.0,60.5 465.5,68.4 466.0,76.3 466.5,83.3 467.0,89.0 467.5,94.4 468.0,99.7 468.5,104.5 469.0,108.4 469.5,110.8 470.0,111.5 470.5,111.2 471.0,110.6 471.5,109.8 472.0,109.0 472.5,108.0 473.0,106.8 473.5,105.3 474.0,103.7 474.5,102.1 475.0,100.3 475.5,98.6 476.0,97.0 476.5,95.4 477.0,93.7 477.5,92.0 478.0,90.2 478.5,88.5 479.0,86.9 479.5,85.4 480.0,84.0 480.5,82.6 481.0,81.2 481.5,79.8 482.0,78.4 482.5,77.2 483.0,76.3 483.5,75.6 484.0,75.4 484.5,75.8 485.0,76.8 485.5,78.3 486.0,80.1 486.5,82.1 487.0,84.9 487.5,88.7 488.0,93.3 488.5,98.6 489.0,105.9 489.5,116.8 490.0,128.6 490.5,138.4 491.0,143.6 491.5,146.6 492.0,149.1 492.5,151.1 493.0,152.4 493.5,153.0 494.0,153.2 494.5,153.3 495.0,153.4 495.5,153.5 496.0,153.6 496.5,153.6 497.0,153.7 497.5,153.8 498.0,153.8 498.5,153.8 499.0,153.9 499.5,153.9 500.0,154.0 500.5,154.1 501.0,154.1 501.5,154.2 502.0,154.2 502.5,154.3 503.0,154.4 503.5,154.4 504.0,154.5 504.5,154.5 505.0,154.6 505.5,154.6 506.0,154.7 506.5,154.7 507.0,154.8 507.5,154.8 508.0,154.9 508.5,154.9 509.0,154.9 509.5,155.0 510.0,155.0 510.5,155.0 511.0,155.1 511.5,155.1 512.0,155.1 512.5,155.2 513.0,155.2 513.5,155.2 514.0,155.3 514.5,155.3 515.0,155.3 515.5,155.4 516.0,155.4 516.5,155.4 517.0,155.4 517.5,155.5 518.0,155.5 518.5,155.5 519.0,155.5 519.5,155.5 520.0,155.5 520.5,155.4 521.0,155.0 521.5,154.4 522.0,153.7 522.5,152.8 523.0,151.9 523.5,151.0 524.0,150.0 524.5,148.9 525.0,147.6 525.5,146.1 526.0,144.5 526.5,142.9 527.0,141.4 527.5,140.0 528.0,138.6 528.5,137.1 529.0,135.7 529.5,134.3 530.0,133.2 530.5,132.4 531.0,132.1 531.5,132.3 532.0,132.7 532.5,133.3 533.0,134.0 533.5,134.8 534.0,135.8 534.5,136.8" fill="none" stroke="#3a8a7c" stroke-width="1.9" stroke-linejoin="round"/>
<polyline points="321.5,147.5 322.0,147.5 322.5,147.5 323.0,147.5 323.5,147.5 324.0,147.5 324.5,147.5 325.0,147.5 325.5,147.5 326.0,147.5 326.5,147.5 327.0,147.4 327.5,147.4 328.0,147.4 328.5,147.4 329.0,147.4 329.5,147.4 330.0,147.4 330.5,147.4 331.0,147.4 331.5,147.4 332.0,147.4 332.5,147.4 333.0,147.4 333.5,147.4 334.0,147.4 334.5,147.3 335.0,147.3 335.5,147.3 336.0,147.3 336.5,147.1 337.0,146.8 337.5,146.2 338.0,145.4 338.5,144.6 339.0,143.7 339.5,142.8 340.0,142.0 340.5,141.1 341.0,140.2 341.5,139.2 342.0,138.1 342.5,137.1 343.0,136.0 343.5,135.0 344.0,134.0 344.5,133.0 345.0,132.1 345.5,131.1 346.0,130.1 346.5,129.2 347.0,128.4 347.5,127.6 348.0,127.0 348.5,126.4 349.0,125.9 349.5,125.3 350.0,124.9 350.5,124.5 351.0,124.2 351.5,124.1 352.0,124.2 352.5,124.5 353.0,125.0 353.5,125.6 354.0,126.4 354.5,127.2 355.0,128.0 355.5,129.1 356.0,130.5 356.5,132.1 357.0,133.9 357.5,135.8 358.0,137.5 358.5,139.0 359.0,140.4 359.5,141.9 360.0,143.3 360.5,144.7 361.0,145.9 361.5,146.9 362.0,147.5 362.5,148.0 363.0,148.4 363.5,148.8 364.0,149.1 364.5,149.4 365.0,149.6 365.5,149.8 366.0,149.8 366.5,149.8 367.0,149.8 367.5,149.8 368.0,149.8 368.5,149.8 369.0,149.8 369.5,149.8 370.0,149.8 370.5,149.8 371.0,149.8 371.5,149.8 372.0,149.8 372.5,149.8 373.0,149.8 373.5,149.8 374.0,149.8 374.5,149.8 375.0,149.8 375.5,149.8 376.0,149.8 376.5,149.8 377.0,149.8 377.5,149.8 378.0,149.8 378.5,149.8 379.0,149.8 379.5,149.8 380.0,149.8 380.5,149.8 381.0,149.8 381.5,149.8 382.0,149.8 382.5,149.7 383.0,149.7 383.5,149.6 384.0,149.6 384.5,149.5 385.0,149.5 385.5,149.4 386.0,149.4 386.5,149.3 387.0,149.2 387.5,149.1 388.0,149.0 388.5,148.8 389.0,148.5 389.5,148.2 390.0,147.7 390.5,147.1 391.0,146.5 391.5,145.7 392.0,144.5 392.5,143.1 393.0,141.5 393.5,139.7 394.0,138.0 394.5,135.9 395.0,133.5 395.5,130.9 396.0,128.7 396.5,127.0 397.0,125.7 397.5,124.6 398.0,123.7 398.5,123.4 399.0,123.7 399.5,124.4 400.0,125.4 400.5,126.5 401.0,127.8 401.5,129.6 402.0,131.6 402.5,133.4 403.0,135.0 403.5,136.4 404.0,137.7 404.5,138.9 405.0,139.9 405.5,140.5 406.0,140.9 406.5,141.2 407.0,141.4 407.5,141.5 408.0,141.4 408.5,140.9 409.0,140.2 409.5,139.5 410.0,139.0 410.5,138.7 411.0,138.3 411.5,138.0 412.0,137.9 412.5,137.8 413.0,138.3 413.5,139.2 414.0,140.2 414.5,141.2 415.0,141.7 415.5,142.1 416.0,142.4 416.5,142.8 417.0,143.1 417.5,143.3 418.0,143.4 418.5,143.5 419.0,143.4 419.5,143.3 420.0,143.0 420.5,142.7 421.0,142.2 421.5,141.7 422.0,141.2 422.5,140.5 423.0,139.9 423.5,139.2 424.0,138.5 424.5,137.7 425.0,137.0 425.5,136.2 426.0,135.2 426.5,134.1 427.0,132.9 427.5,131.6 428.0,130.1 428.5,128.7 429.0,127.1 429.5,125.5 430.0,123.9 430.5,122.3 431.0,120.7 431.5,118.9 432.0,117.0 432.5,115.0 433.0,113.0 433.5,110.9 434.0,108.8 434.5,106.7 435.0,104.6 435.5,102.5 436.0,100.2 436.5,97.9 437.0,95.6 437.5,93.6 438.0,92.0 438.5,90.7 439.0,89.3 439.5,88.2 440.0,87.3 440.5,86.8 441.0,87.0 441.5,87.8 442.0,89.1 442.5,90.6 443.0,92.0 443.5,93.4 444.0,94.8 444.5,96.4 445.0,98.0 445.5,99.6 446.0,101.3 446.5,103.0 447.0,104.9 447.5,106.8 448.0,108.8 448.5,110.7 449.0,112.6 449.5,114.4 450.0,116.0 450.5,117.5 451.0,119.0 451.5,120.4 452.0,121.7 452.5,122.9 453.0,124.0 453.5,124.9 454.0,125.8 454.5,126.6 455.0,127.4 455.5,128.1 456.0,128.4 456.5,128.0 457.0,123.5 457.5,118.0 458.0,112.8 458.5,107.2 459.0,101.9 459.5,98.0 460.0,95.0 460.5,92.3 461.0,90.4 461.5,89.6 462.0,90.2 462.5,91.9 463.0,94.3 463.5,97.0 464.0,101.1 464.5,106.9 465.0,113.0 465.5,118.0 466.0,122.4 466.5,126.3 467.0,128.0 467.5,127.9 468.0,127.5 468.5,126.8 469.0,126.0 469.5,123.3 470.0,120.0 470.5,118.0 471.0,116.3 471.5,114.7 472.0,113.2 472.5,111.9 473.0,110.6 473.5,109.4 474.0,108.3 474.5,107.2 475.0,106.0 475.5,104.8 476.0,103.6 476.5,102.5 477.0,101.3 477.5,100.2 478.0,99.2 478.5,98.3 479.0,97.4 479.5,96.6 480.0,96.0 480.5,95.4 481.0,94.9 481.5,94.3 482.0,93.8 482.5,93.4 483.0,93.1 483.5,92.9 484.0,92.8 484.5,93.1 485.0,93.8 485.5,94.9 486.0,96.2 486.5,97.6 487.0,99.7 487.5,102.4 488.0,105.6 488.5,109.2 489.0,113.8 489.5,120.0 490.0,126.9 490.5,133.1 491.0,137.8 491.5,141.7 492.0,145.4 492.5,148.5 493.0,150.8 493.5,152.0 494.0,152.5 494.5,152.9 495.0,153.2 495.5,153.5 496.0,153.8 496.5,154.0 497.0,154.2 497.5,154.4 498.0,154.6 498.5,154.7 499.0,154.8 499.5,154.9 500.0,155.0 500.5,155.1 501.0,155.2 501.5,155.2 502.0,155.3 502.5,155.4 503.0,155.4 503.5,155.5 504.0,155.5 504.5,155.6 505.0,155.6 505.5,155.7 506.0,155.7 506.5,155.8 507.0,155.8 507.5,155.8 508.0,155.9 508.5,155.9 509.0,155.9 509.5,156.0 510.0,156.0 510.5,156.0 511.0,156.1 511.5,156.1 512.0,156.1 512.5,156.2 513.0,156.2 513.5,156.2 514.0,156.3 514.5,156.3 515.0,156.3 515.5,156.4 516.0,156.4 516.5,156.4 517.0,156.4 517.5,156.5 518.0,156.5 518.5,156.5 519.0,156.5 519.5,156.5 520.0,156.5 520.5,156.4 521.0,156.3 521.5,156.0 522.0,155.7 522.5,155.3 523.0,154.9 523.5,154.4 524.0,154.0 524.5,153.5 525.0,153.0 525.5,152.3 526.0,151.6 526.5,150.9 527.0,150.2 527.5,149.5 528.0,148.7 528.5,147.8 529.0,146.8 529.5,145.8 530.0,145.0 530.5,144.5 531.0,144.3 531.5,144.5 532.0,144.9 532.5,145.4 533.0,146.0 533.5,146.6 534.0,147.2 534.5,147.9" fill="none" stroke="#d23cc8" stroke-width="1.9" stroke-linejoin="round"/>
<path d="M404.6,8.7 V94.05 H325" fill="none" stroke="#000" stroke-width="2.2"/>
<line x1="322.3" y1="17.9" x2="347.3" y2="17.9" stroke="#303030" stroke-width="1.5"/>
<text x="393" y="22.2" font-family="Liberation Serif, serif" font-weight="bold" stroke="#000" stroke-width="0.3" font-size="12.4" text-anchor="end">5% Tb</text>
<text x="393.4" y="16.2" font-family="Liberation Serif, serif" font-weight="bold" stroke="#000" stroke-width="0.3" font-size="7.8" stroke-width="0.2" textLength="6.4" lengthAdjust="spacingAndGlyphs">3+</text>
<line x1="322.3" y1="35.3" x2="347.3" y2="35.3" stroke="#b04050" stroke-width="1.5"/>
<text x="393" y="39.6" font-family="Liberation Serif, serif" font-weight="bold" stroke="#000" stroke-width="0.3" font-size="12.4" text-anchor="end">10% Tb</text>
<text x="393.4" y="33.6" font-family="Liberation Serif, serif" font-weight="bold" stroke="#000" stroke-width="0.3" font-size="7.8" stroke-width="0.2" textLength="6.4" lengthAdjust="spacingAndGlyphs">3+</text>
<line x1="322.3" y1="52.6" x2="347.3" y2="52.6" stroke="#3838a8" stroke-width="1.5"/>
<text x="393" y="56.9" font-family="Liberation Serif, serif" font-weight="bold" stroke="#000" stroke-width="0.3" font-size="12.4" text-anchor="end">15% Tb</text>
<text x="393.4" y="50.9" font-family="Liberation Serif, serif" font-weight="bold" stroke="#000" stroke-width="0.3" font-size="7.8" stroke-width="0.2" textLength="6.4" lengthAdjust="spacingAndGlyphs">3+</text>
<line x1="322.3" y1="69.6" x2="347.3" y2="69.6" stroke="#3a8078" stroke-width="1.5"/>
<text x="393" y="73.9" font-family="Liberation Serif, serif" font-weight="bold" stroke="#000" stroke-width="0.3" font-size="12.4" text-anchor="end">18% Tb</text>
<text x="393.4" y="67.9" font-family="Liberation Serif, serif" font-weight="bold" stroke="#000" stroke-width="0.3" font-size="7.8" stroke-width="0.2" textLength="6.4" lengthAdjust="spacingAndGlyphs">3+</text>
<line x1="322.3" y1="86.6" x2="347.3" y2="86.6" stroke="#b84aa8" stroke-width="1.5"/>
<text x="393" y="90.9" font-family="Liberation Serif, serif" font-weight="bold" stroke="#000" stroke-width="0.3" font-size="12.4" text-anchor="end">20% Tb</text>
<text x="393.4" y="84.9" font-family="Liberation Serif, serif" font-weight="bold" stroke="#000" stroke-width="0.3" font-size="7.8" stroke-width="0.2" textLength="6.4" lengthAdjust="spacingAndGlyphs">3+</text>
<rect x="321.3" y="6.3" width="213.5" height="158.7" fill="none" stroke="#000" stroke-width="1.5"/>
<line x1="338.6" y1="165.0" x2="338.6" y2="167.0" stroke="#000" stroke-width="1.1"/>
<line x1="360.4" y1="165.0" x2="360.4" y2="168.0" stroke="#000" stroke-width="1.1"/>
<text x="360.4" y="182.6" font-family="Liberation Serif, serif" font-weight="bold" stroke="#000" stroke-width="0.3" font-size="14" text-anchor="middle">500</text>
<line x1="382.2" y1="165.0" x2="382.2" y2="167.0" stroke="#000" stroke-width="1.1"/>
<line x1="404.0" y1="165.0" x2="404.0" y2="168.0" stroke="#000" stroke-width="1.1"/>
<text x="404.0" y="182.6" font-family="Liberation Serif, serif" font-weight="bold" stroke="#000" stroke-width="0.3" font-size="14" text-anchor="middle">550</text>
<line x1="425.9" y1="165.0" x2="425.9" y2="167.0" stroke="#000" stroke-width="1.1"/>
<line x1="447.7" y1="165.0" x2="447.7" y2="168.0" stroke="#000" stroke-width="1.1"/>
<text x="447.7" y="182.6" font-family="Liberation Serif, serif" font-weight="bold" stroke="#000" stroke-width="0.3" font-size="14" text-anchor="middle">600</text>
<line x1="469.5" y1="165.0" x2="469.5" y2="167.0" stroke="#000" stroke-width="1.1"/>
<line x1="491.3" y1="165.0" x2="491.3" y2="168.0" stroke="#000" stroke-width="1.1"/>
<text x="491.3" y="182.6" font-family="Liberation Serif, serif" font-weight="bold" stroke="#000" stroke-width="0.3" font-size="14" text-anchor="middle">650</text>
<line x1="513.1" y1="165.0" x2="513.1" y2="167.0" stroke="#000" stroke-width="1.1"/>
<line x1="535.0" y1="165.0" x2="535.0" y2="168.0" stroke="#000" stroke-width="1.1"/>
<text x="535.0" y="182.6" font-family="Liberation Serif, serif" font-weight="bold" stroke="#000" stroke-width="0.3" font-size="14" text-anchor="middle">700</text>
<text x="374.6" y="197.6" font-family="Liberation Serif, serif" font-weight="bold" stroke="#000" stroke-width="0.3" font-size="16" textLength="123" lengthAdjust="spacingAndGlyphs" xml:space="preserve">Wavelength  (nm)</text>
<text transform="translate(303.2,127.4) rotate(-90)" font-family="Liberation Serif, serif" font-weight="bold" stroke="#000" stroke-width="0.3" font-size="15.8">Intensity (a.u.)</text>
<polyline points="339.42,222.05 339.42,223.14 339.51,233.51 339.60,243.34 339.74,254.81 339.88,264.91 340.06,275.01 340.24,282.93 340.43,290.02 340.62,295.76 340.81,300.67 341.07,306.13 341.35,311.04 341.61,314.87 341.93,318.69 342.08,320.30 342.23,321.78 342.39,323.14 342.54,324.41 342.69,325.59 342.84,326.68 343.00,327.70 343.15,328.66 343.30,329.56 343.45,330.40 343.61,331.19 343.76,331.94 343.91,332.65 344.06,333.32 344.22,333.95 344.37,334.55 344.67,335.67 344.98,336.68 345.28,337.60 345.59,338.44 345.89,339.22 346.20,339.93 346.50,340.59 346.81,341.20 347.11,341.77 347.42,342.30 347.72,342.80 348.03,343.26 348.33,343.70 348.64,344.11 348.94,344.50 349.25,344.86 349.55,345.20 349.86,345.53 350.16,345.84 350.47,346.13 350.77,346.41 351.08,346.68 351.38,346.93 351.69,347.17 351.99,347.40 352.30,347.62 352.60,347.84 352.91,348.04 353.21,348.23 353.52,348.42 353.82,348.60 354.13,348.77 354.43,348.93 354.74,349.09 355.04,349.25 355.35,349.39 355.65,349.54 355.96,349.67 356.26,349.81 356.57,349.94 357.18,350.18 357.79,350.41 358.40,350.62 359.01,350.83 359.62,351.02 360.23,351.20 360.84,351.37 361.45,351.53 362.06,351.68 362.67,351.83 363.28,351.96 363.89,352.10 364.50,352.22 365.11,352.34 365.72,352.45 366.33,352.56 366.94,352.67 367.55,352.77 368.16,352.86 368.77,352.96 369.38,353.05 369.99,353.13 370.60,353.21 371.21,353.29 371.82,353.37 372.43,353.44 373.04,353.51 373.65,353.58 374.26,353.65 374.87,353.71 375.48,353.77 376.09,353.83 376.70,353.89 377.31,353.94 377.92,354.00 378.53,354.05 379.14,354.10 379.75,354.15 380.36,354.20 380.97,354.25 381.58,354.29 382.19,354.34 382.80,354.38 383.41,354.42 384.02,354.46 384.63,354.50 385.24,354.54 385.85,354.58 386.46,354.61 387.07,354.65 387.68,354.68 388.29,354.72 388.90,354.75 389.51,354.78 390.12,354.81 390.73,354.84 391.34,354.87 391.95,354.90 392.56,354.93 393.17,354.96 393.78,354.99 394.39,355.01 395.00,355.04 395.61,355.07 396.22,355.09 396.83,355.12 397.44,355.14 398.05,355.16 398.66,355.19 399.27,355.21 399.88,355.23 400.49,355.25 401.10,355.28 401.71,355.30 402.32,355.32 402.93,355.34 403.54,355.36 404.15,355.38 404.76,355.40 405.37,355.41 405.98,355.43 406.59,355.45 407.20,355.47 407.81,355.49 408.42,355.50 409.03,355.52 409.64,355.54 410.25,355.55 410.86,355.57 411.47,355.58 412.08,355.60 412.69,355.62 413.30,355.63 413.91,355.65 414.52,355.66 415.13,355.67 415.74,355.69 416.35,355.70 416.96,355.72 417.57,355.73 418.18,355.74 418.79,355.76 419.40,355.77 420.01,355.78 420.62,355.79 421.23,355.81 421.84,355.82 422.45,355.83 423.06,355.84 423.67,355.85 424.28,355.86 424.89,355.88 425.50,355.89 426.11,355.90 426.72,355.91 427.33,355.92 427.94,355.93 428.55,355.94 429.16,355.95 429.77,355.96 430.38,355.97 430.99,355.98 431.60,355.99 432.21,356.00 432.82,356.01 433.43,356.02 434.04,356.03 434.65,356.04 435.26,356.04 435.87,356.05 436.48,356.06 437.09,356.07 437.70,356.08 438.31,356.09 438.92,356.10 439.53,356.10 440.14,356.11 440.75,356.12 441.36,356.13 441.97,356.14 442.58,356.14 443.19,356.15 443.80,356.16 444.41,356.17 445.02,356.17 445.63,356.18 446.24,356.19 446.85,356.19 447.46,356.20 448.07,356.21 448.68,356.22 449.29,356.22 449.90,356.23 450.51,356.24 451.12,356.24 451.73,356.25 452.34,356.26 452.95,356.26 453.56,356.27 454.17,356.27 454.78,356.28 455.39,356.29 456.00,356.29 456.61,356.30 457.22,356.30 457.83,356.31 458.44,356.32 459.05,356.32 459.66,356.33 460.27,356.33 460.88,356.34 461.49,356.34 462.10,356.35 462.71,356.36 463.32,356.36 463.93,356.37 464.54,356.37 465.15,356.38 465.76,356.38 466.37,356.39 466.98,356.39 467.59,356.40 468.20,356.40 468.81,356.41 469.42,356.41 470.03,356.42 470.64,356.42 471.25,356.43 471.86,356.43 472.47,356.44 473.08,356.44 473.69,356.44 474.30,356.45 474.91,356.45 475.52,356.46 476.13,356.46 476.74,356.47 477.35,356.47 477.96,356.48 478.57,356.48 479.18,356.48 479.79,356.49 480.40,356.49 481.01,356.50 481.62,356.50 482.23,356.50 482.84,356.51 483.45,356.51 484.06,356.52 484.67,356.52 485.28,356.52 485.89,356.53 486.50,356.53 487.11,356.54 487.72,356.54 488.33,356.54 488.94,356.55 489.55,356.55 490.16,356.55 490.77,356.56 491.38,356.56 491.99,356.56 492.60,356.57 493.21,356.57 493.82,356.58 494.43,356.58 495.04,356.58 495.65,356.59 496.26,356.59 496.87,356.59 497.48,356.60 498.09,356.60 498.70,356.60 499.31,356.61 499.92,356.61 500.53,356.61 501.14,356.61 501.75,356.62 502.36,356.62 502.97,356.62 503.58,356.63 504.19,356.63 504.80,356.63 505.41,356.64 506.02,356.64 506.63,356.64 507.24,356.65 507.85,356.65 508.46,356.65 509.07,356.65 509.68,356.66 510.29,356.66 510.90,356.66 511.51,356.67 512.12,356.67 512.73,356.67 513.34,356.67 513.95,356.68 514.56,356.68 515.17,356.68 515.78,356.68 516.39,356.69 517.00,356.69 517.61,356.69 518.22,356.69 518.83,356.70 519.44,356.70 520.05,356.70 520.66,356.70 521.27,356.71" fill="none" stroke="#6a6ad0" stroke-width="0.8"/>
<circle cx="339.42" cy="222.05" r="2.3" fill="url(#gb)"/>
<circle cx="339.42" cy="223.14" r="2.3" fill="url(#gb)"/>
<circle cx="339.51" cy="233.51" r="2.3" fill="url(#gb)"/>
<circle cx="339.60" cy="243.34" r="2.3" fill="url(#gb)"/>
<circle cx="339.74" cy="254.81" r="2.3" fill="url(#gb)"/>
<circle cx="339.88" cy="264.91" r="2.3" fill="url(#gb)"/>
<circle cx="340.06" cy="275.01" r="2.3" fill="url(#gb)"/>
<circle cx="340.24" cy="282.93" r="2.3" fill="url(#gb)"/>
<circle cx="340.43" cy="290.02" r="2.3" fill="url(#gb)"/>
<circle cx="340.62" cy="295.76" r="2.3" fill="url(#gb)"/>
<circle cx="340.81" cy="300.67" r="2.3" fill="url(#gb)"/>
<circle cx="341.07" cy="306.13" r="2.3" fill="url(#gb)"/>
<circle cx="341.35" cy="311.04" r="2.3" fill="url(#gb)"/>
<circle cx="341.61" cy="314.87" r="2.3" fill="url(#gb)"/>
<circle cx="341.93" cy="318.69" r="2.3" fill="url(#gb)"/>
<circle cx="342.08" cy="320.30" r="2.3" fill="url(#gc)"/>
<circle cx="342.23" cy="321.78" r="2.3" fill="url(#gc)"/>
<circle cx="342.39" cy="323.14" r="2.3" fill="url(#gc)"/>
<circle cx="342.54" cy="324.41" r="2.3" fill="url(#gc)"/>
<circle cx="342.69" cy="325.59" r="2.3" fill="url(#gc)"/>
<circle cx="342.84" cy="326.68" r="2.3" fill="url(#gc)"/>
<circle cx="343.00" cy="327.70" r="2.3" fill="url(#gc)"/>
<circle cx="343.15" cy="328.66" r="2.3" fill="url(#gc)"/>
<circle cx="343.30" cy="329.56" r="2.3" fill="url(#gc)"/>
<circle cx="343.45" cy="330.40" r="2.3" fill="url(#gc)"/>
<circle cx="343.61" cy="331.19" r="2.3" fill="url(#gc)"/>
<circle cx="343.76" cy="331.94" r="2.3" fill="url(#gc)"/>
<circle cx="343.91" cy="332.65" r="2.3" fill="url(#gc)"/>
<circle cx="344.06" cy="333.32" r="2.3" fill="url(#gc)"/>
<circle cx="344.22" cy="333.95" r="2.3" fill="url(#gc)"/>
<circle cx="344.37" cy="334.55" r="2.3" fill="url(#gc)"/>
<circle cx="344.67" cy="335.67" r="2.3" fill="url(#gc)"/>
<circle cx="344.98" cy="336.68" r="2.3" fill="url(#gc)"/>
<circle cx="345.28" cy="337.60" r="2.3" fill="url(#gc)"/>
<circle cx="345.59" cy="338.44" r="2.3" fill="url(#gc)"/>
<circle cx="345.89" cy="339.22" r="2.3" fill="url(#gc)"/>
<circle cx="346.20" cy="339.93" r="2.3" fill="url(#gc)"/>
<circle cx="346.50" cy="340.59" r="2.3" fill="url(#gc)"/>
<circle cx="346.81" cy="341.20" r="2.3" fill="url(#gc)"/>
<circle cx="347.11" cy="341.77" r="2.3" fill="url(#gc)"/>
<circle cx="347.42" cy="342.30" r="2.3" fill="url(#gc)"/>
<circle cx="347.72" cy="342.80" r="2.3" fill="url(#gc)"/>
<circle cx="348.03" cy="343.26" r="2.3" fill="url(#gc)"/>
<circle cx="348.33" cy="343.70" r="2.3" fill="url(#gc)"/>
<circle cx="348.64" cy="344.11" r="2.3" fill="url(#gc)"/>
<circle cx="348.94" cy="344.50" r="2.3" fill="url(#gm)"/>
<circle cx="349.25" cy="344.86" r="2.3" fill="url(#gm)"/>
<circle cx="349.55" cy="345.20" r="2.3" fill="url(#gm)"/>
<circle cx="349.86" cy="345.53" r="2.3" fill="url(#gm)"/>
<circle cx="350.16" cy="345.84" r="2.3" fill="url(#gm)"/>
<circle cx="350.47" cy="346.13" r="2.3" fill="url(#gm)"/>
<circle cx="350.77" cy="346.41" r="2.3" fill="url(#gm)"/>
<circle cx="351.08" cy="346.68" r="2.3" fill="url(#gm)"/>
<circle cx="351.38" cy="346.93" r="2.3" fill="url(#gm)"/>
<circle cx="351.69" cy="347.17" r="2.3" fill="url(#gm)"/>
<circle cx="351.99" cy="347.40" r="2.3" fill="url(#gm)"/>
<circle cx="352.30" cy="347.62" r="2.3" fill="url(#gm)"/>
<circle cx="352.60" cy="347.84" r="2.3" fill="url(#gm)"/>
<circle cx="352.91" cy="348.04" r="2.3" fill="url(#gm)"/>
<circle cx="353.21" cy="348.23" r="2.3" fill="url(#gm)"/>
<circle cx="353.52" cy="348.42" r="2.3" fill="url(#gm)"/>
<circle cx="353.82" cy="348.60" r="2.3" fill="url(#gm)"/>
<circle cx="354.13" cy="348.77" r="2.3" fill="url(#gm)"/>
<circle cx="354.43" cy="348.93" r="2.3" fill="url(#gm)"/>
<circle cx="354.74" cy="349.09" r="2.3" fill="url(#gm)"/>
<circle cx="355.04" cy="349.25" r="2.3" fill="url(#gm)"/>
<circle cx="355.35" cy="349.39" r="2.3" fill="url(#gm)"/>
<circle cx="355.65" cy="349.54" r="2.3" fill="url(#gm)"/>
<circle cx="355.96" cy="349.67" r="2.3" fill="url(#gm)"/>
<circle cx="356.26" cy="349.81" r="2.3" fill="url(#gm)"/>
<circle cx="356.57" cy="349.94" r="2.3" fill="url(#gp)"/>
<circle cx="357.18" cy="350.18" r="2.3" fill="url(#gp)"/>
<circle cx="357.79" cy="350.41" r="2.3" fill="url(#gp)"/>
<circle cx="358.40" cy="350.62" r="2.3" fill="url(#gp)"/>
<circle cx="359.01" cy="350.83" r="2.3" fill="url(#gp)"/>
<circle cx="359.62" cy="351.02" r="2.3" fill="url(#gp)"/>
<circle cx="360.23" cy="351.20" r="2.3" fill="url(#gp)"/>
<circle cx="360.84" cy="351.37" r="2.3" fill="url(#gp)"/>
<circle cx="361.45" cy="351.53" r="2.3" fill="url(#gp)"/>
<circle cx="362.06" cy="351.68" r="2.3" fill="url(#gp)"/>
<circle cx="362.67" cy="351.83" r="2.3" fill="url(#gp)"/>
<circle cx="363.28" cy="351.96" r="2.3" fill="url(#gp)"/>
<circle cx="363.89" cy="352.10" r="2.3" fill="url(#gp)"/>
<circle cx="364.50" cy="352.22" r="2.3" fill="url(#gp)"/>
<circle cx="365.11" cy="352.34" r="2.3" fill="url(#gp)"/>
<circle cx="365.72" cy="352.45" r="2.3" fill="url(#gp)"/>
<circle cx="366.33" cy="352.56" r="2.3" fill="url(#gp)"/>
<circle cx="366.94" cy="352.67" r="2.3" fill="url(#gp)"/>
<circle cx="367.55" cy="352.77" r="2.3" fill="url(#gp)"/>
<circle cx="368.16" cy="352.86" r="2.3" fill="url(#gp)"/>
<circle cx="368.77" cy="352.96" r="2.3" fill="url(#gp)"/>
<circle cx="369.38" cy="353.05" r="2.3" fill="url(#gp)"/>
<circle cx="369.99" cy="353.13" r="2.3" fill="url(#gp)"/>
<circle cx="370.60" cy="353.21" r="2.3" fill="url(#gp)"/>
<circle cx="371.21" cy="353.29" r="2.3" fill="url(#gp)"/>
<circle cx="371.82" cy="353.37" r="2.3" fill="url(#gp)"/>
<circle cx="372.43" cy="353.44" r="2.3" fill="url(#gp)"/>
<circle cx="373.04" cy="353.51" r="2.3" fill="url(#gp)"/>
<circle cx="373.65" cy="353.58" r="2.3" fill="url(#gp)"/>
<circle cx="374.26" cy="353.65" r="2.3" fill="url(#gp)"/>
<circle cx="374.87" cy="353.71" r="2.3" fill="url(#gp)"/>
<circle cx="375.48" cy="353.77" r="2.3" fill="url(#gp)"/>
<circle cx="376.09" cy="353.83" r="2.3" fill="url(#gp)"/>
<circle cx="376.70" cy="353.89" r="2.3" fill="url(#gp)"/>
<circle cx="377.31" cy="353.94" r="2.3" fill="url(#gp)"/>
<circle cx="377.92" cy="354.00" r="2.3" fill="url(#gp)"/>
<circle cx="378.53" cy="354.05" r="2.3" fill="url(#gp)"/>
<circle cx="379.14" cy="354.10" r="2.3" fill="url(#gp)"/>
<circle cx="379.75" cy="354.15" r="2.3" fill="url(#gp)"/>
<circle cx="380.36" cy="354.20" r="2.3" fill="url(#gp)"/>
<circle cx="380.97" cy="354.25" r="2.3" fill="url(#gp)"/>
<circle cx="381.58" cy="354.29" r="2.3" fill="url(#gp)"/>
<circle cx="382.19" cy="354.34" r="2.3" fill="url(#gp)"/>
<circle cx="382.80" cy="354.38" r="2.3" fill="url(#gp)"/>
<circle cx="383.41" cy="354.42" r="2.3" fill="url(#gp)"/>
<circle cx="384.02" cy="354.46" r="2.3" fill="url(#gp)"/>
<circle cx="384.63" cy="354.50" r="2.3" fill="url(#gp)"/>
<circle cx="385.24" cy="354.54" r="2.3" fill="url(#gp)"/>
<circle cx="385.85" cy="354.58" r="2.3" fill="url(#gp)"/>
<circle cx="386.46" cy="354.61" r="2.3" fill="url(#gp)"/>
<circle cx="387.07" cy="354.65" r="2.3" fill="url(#gp)"/>
<circle cx="387.68" cy="354.68" r="2.3" fill="url(#gp)"/>
<circle cx="388.29" cy="354.72" r="2.3" fill="url(#gp)"/>
<circle cx="388.90" cy="354.75" r="2.3" fill="url(#gp)"/>
<circle cx="389.51" cy="354.78" r="2.3" fill="url(#gp)"/>
<circle cx="390.12" cy="354.81" r="2.3" fill="url(#gp)"/>
<circle cx="390.73" cy="354.84" r="2.3" fill="url(#gp)"/>
<circle cx="391.34" cy="354.87" r="2.3" fill="url(#gp)"/>
<circle cx="391.95" cy="354.90" r="2.3" fill="url(#gp)"/>
<circle cx="392.56" cy="354.93" r="2.3" fill="url(#gp)"/>
<circle cx="393.17" cy="354.96" r="2.3" fill="url(#gp)"/>
<circle cx="393.78" cy="354.99" r="2.3" fill="url(#gp)"/>
<circle cx="394.39" cy="355.01" r="2.3" fill="url(#gp)"/>
<circle cx="395.00" cy="355.04" r="2.3" fill="url(#gp)"/>
<circle cx="395.61" cy="355.07" r="2.3" fill="url(#gp)"/>
<circle cx="396.22" cy="355.09" r="2.3" fill="url(#gp)"/>
<circle cx="396.83" cy="355.12" r="2.3" fill="url(#gp)"/>
<circle cx="397.44" cy="355.14" r="2.3" fill="url(#gp)"/>
<circle cx="398.05" cy="355.16" r="2.3" fill="url(#gp)"/>
<circle cx="398.66" cy="355.19" r="2.3" fill="url(#gp)"/>
<circle cx="399.27" cy="355.21" r="2.3" fill="url(#gp)"/>
<circle cx="399.88" cy="355.23" r="2.3" fill="url(#gp)"/>
<circle cx="400.49" cy="355.25" r="2.3" fill="url(#gp)"/>
<circle cx="401.10" cy="355.28" r="2.3" fill="url(#gp)"/>
<circle cx="401.71" cy="355.30" r="2.3" fill="url(#gp)"/>
<circle cx="402.32" cy="355.32" r="2.3" fill="url(#gp)"/>
<circle cx="402.93" cy="355.34" r="2.3" fill="url(#gp)"/>
<circle cx="403.54" cy="355.36" r="2.3" fill="url(#gp)"/>
<circle cx="404.15" cy="355.38" r="2.3" fill="url(#gp)"/>
<circle cx="404.76" cy="355.40" r="2.3" fill="url(#gp)"/>
<circle cx="405.37" cy="355.41" r="2.3" fill="url(#gp)"/>
<circle cx="405.98" cy="355.43" r="2.3" fill="url(#gp)"/>
<circle cx="406.59" cy="355.45" r="2.3" fill="url(#gp)"/>
<circle cx="407.20" cy="355.47" r="2.3" fill="url(#gp)"/>
<circle cx="407.81" cy="355.49" r="2.3" fill="url(#gp)"/>
<circle cx="408.42" cy="355.50" r="2.3" fill="url(#gp)"/>
<circle cx="409.03" cy="355.52" r="2.3" fill="url(#gp)"/>
<circle cx="409.64" cy="355.54" r="2.3" fill="url(#gp)"/>
<circle cx="410.25" cy="355.55" r="2.3" fill="url(#gp)"/>
<circle cx="410.86" cy="355.57" r="2.3" fill="url(#gp)"/>
<circle cx="411.47" cy="355.58" r="2.3" fill="url(#gp)"/>
<circle cx="412.08" cy="355.60" r="2.3" fill="url(#gp)"/>
<circle cx="412.69" cy="355.62" r="2.3" fill="url(#gp)"/>
<circle cx="413.30" cy="355.63" r="2.3" fill="url(#gp)"/>
<circle cx="413.91" cy="355.65" r="2.3" fill="url(#gp)"/>
<circle cx="414.52" cy="355.66" r="2.3" fill="url(#gp)"/>
<circle cx="415.13" cy="355.67" r="2.3" fill="url(#gp)"/>
<circle cx="415.74" cy="355.69" r="2.3" fill="url(#gp)"/>
<circle cx="416.35" cy="355.70" r="2.3" fill="url(#gp)"/>
<circle cx="416.96" cy="355.72" r="2.3" fill="url(#gp)"/>
<circle cx="417.57" cy="355.73" r="2.3" fill="url(#gp)"/>
<circle cx="418.18" cy="355.74" r="2.3" fill="url(#gp)"/>
<circle cx="418.79" cy="355.76" r="2.3" fill="url(#gp)"/>
<circle cx="419.40" cy="355.77" r="2.3" fill="url(#gp)"/>
<circle cx="420.01" cy="355.78" r="2.3" fill="url(#gp)"/>
<circle cx="420.62" cy="355.79" r="2.3" fill="url(#gp)"/>
<circle cx="421.23" cy="355.81" r="2.3" fill="url(#gp)"/>
<circle cx="421.84" cy="355.82" r="2.3" fill="url(#gp)"/>
<circle cx="422.45" cy="355.83" r="2.3" fill="url(#gp)"/>
<circle cx="423.06" cy="355.84" r="2.3" fill="url(#gp)"/>
<circle cx="423.67" cy="355.85" r="2.3" fill="url(#gp)"/>
<circle cx="424.28" cy="355.86" r="2.3" fill="url(#gp)"/>
<circle cx="424.89" cy="355.88" r="2.3" fill="url(#gp)"/>
<circle cx="425.50" cy="355.89" r="2.3" fill="url(#gp)"/>
<circle cx="426.11" cy="355.90" r="2.3" fill="url(#gp)"/>
<circle cx="426.72" cy="355.91" r="2.3" fill="url(#gp)"/>
<circle cx="427.33" cy="355.92" r="2.3" fill="url(#gp)"/>
<circle cx="427.94" cy="355.93" r="2.3" fill="url(#gp)"/>
<circle cx="428.55" cy="355.94" r="2.3" fill="url(#gp)"/>
<circle cx="429.16" cy="355.95" r="2.3" fill="url(#gp)"/>
<circle cx="429.77" cy="355.96" r="2.3" fill="url(#gp)"/>
<circle cx="430.38" cy="355.97" r="2.3" fill="url(#gp)"/>
<circle cx="430.99" cy="355.98" r="2.3" fill="url(#gp)"/>
<circle cx="431.60" cy="355.99" r="2.3" fill="url(#gp)"/>
<circle cx="432.21" cy="356.00" r="2.3" fill="url(#gp)"/>
<circle cx="432.82" cy="356.01" r="2.3" fill="url(#gp)"/>
<circle cx="433.43" cy="356.02" r="2.3" fill="url(#gp)"/>
<circle cx="434.04" cy="356.03" r="2.3" fill="url(#gp)"/>
<circle cx="434.65" cy="356.04" r="2.3" fill="url(#gp)"/>
<circle cx="435.26" cy="356.04" r="2.3" fill="url(#gp)"/>
<circle cx="435.87" cy="356.05" r="2.3" fill="url(#gp)"/>
<circle cx="436.48" cy="356.06" r="2.3" fill="url(#gp)"/>
<circle cx="437.09" cy="356.07" r="2.3" fill="url(#gp)"/>
<circle cx="437.70" cy="356.08" r="2.3" fill="url(#gp)"/>
<circle cx="438.31" cy="356.09" r="2.3" fill="url(#gp)"/>
<circle cx="438.92" cy="356.10" r="2.3" fill="url(#gp)"/>
<circle cx="439.53" cy="356.10" r="2.3" fill="url(#gp)"/>
<circle cx="440.14" cy="356.11" r="2.3" fill="url(#gp)"/>
<circle cx="440.75" cy="356.12" r="2.3" fill="url(#gp)"/>
<circle cx="441.36" cy="356.13" r="2.3" fill="url(#gp)"/>
<circle cx="441.97" cy="356.14" r="2.3" fill="url(#gp)"/>
<circle cx="442.58" cy="356.14" r="2.3" fill="url(#gp)"/>
<circle cx="443.19" cy="356.15" r="2.3" fill="url(#gp)"/>
<circle cx="443.80" cy="356.16" r="2.3" fill="url(#gp)"/>
<circle cx="444.41" cy="356.17" r="2.3" fill="url(#gp)"/>
<circle cx="445.02" cy="356.17" r="2.3" fill="url(#gp)"/>
<circle cx="445.63" cy="356.18" r="2.3" fill="url(#gp)"/>
<circle cx="446.24" cy="356.19" r="2.3" fill="url(#gp)"/>
<circle cx="446.85" cy="356.19" r="2.3" fill="url(#gp)"/>
<circle cx="447.46" cy="356.20" r="2.3" fill="url(#gp)"/>
<circle cx="448.07" cy="356.21" r="2.3" fill="url(#gp)"/>
<circle cx="448.68" cy="356.22" r="2.3" fill="url(#gp)"/>
<circle cx="449.29" cy="356.22" r="2.3" fill="url(#gp)"/>
<circle cx="449.90" cy="356.23" r="2.3" fill="url(#gp)"/>
<circle cx="450.51" cy="356.24" r="2.3" fill="url(#gp)"/>
<circle cx="451.12" cy="356.24" r="2.3" fill="url(#gp)"/>
<circle cx="451.73" cy="356.25" r="2.3" fill="url(#gp)"/>
<circle cx="452.34" cy="356.26" r="2.3" fill="url(#gp)"/>
<circle cx="452.95" cy="356.26" r="2.3" fill="url(#gp)"/>
<circle cx="453.56" cy="356.27" r="2.3" fill="url(#gp)"/>
<circle cx="454.17" cy="356.27" r="2.3" fill="url(#gp)"/>
<circle cx="454.78" cy="356.28" r="2.3" fill="url(#gp)"/>
<circle cx="455.39" cy="356.29" r="2.3" fill="url(#gp)"/>
<circle cx="456.00" cy="356.29" r="2.3" fill="url(#gp)"/>
<circle cx="456.61" cy="356.30" r="2.3" fill="url(#gp)"/>
<circle cx="457.22" cy="356.30" r="2.3" fill="url(#gp)"/>
<circle cx="457.83" cy="356.31" r="2.3" fill="url(#gp)"/>
<circle cx="458.44" cy="356.32" r="2.3" fill="url(#gp)"/>
<circle cx="459.05" cy="356.32" r="2.3" fill="url(#gp)"/>
<circle cx="459.66" cy="356.33" r="2.3" fill="url(#gp)"/>
<circle cx="460.27" cy="356.33" r="2.3" fill="url(#gp)"/>
<circle cx="460.88" cy="356.34" r="2.3" fill="url(#gp)"/>
<circle cx="461.49" cy="356.34" r="2.3" fill="url(#gp)"/>
<circle cx="462.10" cy="356.35" r="2.3" fill="url(#gp)"/>
<circle cx="462.71" cy="356.36" r="2.3" fill="url(#gp)"/>
<circle cx="463.32" cy="356.36" r="2.3" fill="url(#gp)"/>
<circle cx="463.93" cy="356.37" r="2.3" fill="url(#gp)"/>
<circle cx="464.54" cy="356.37" r="2.3" fill="url(#gp)"/>
<circle cx="465.15" cy="356.38" r="2.3" fill="url(#gp)"/>
<circle cx="465.76" cy="356.38" r="2.3" fill="url(#gp)"/>
<circle cx="466.37" cy="356.39" r="2.3" fill="url(#gp)"/>
<circle cx="466.98" cy="356.39" r="2.3" fill="url(#gp)"/>
<circle cx="467.59" cy="356.40" r="2.3" fill="url(#gp)"/>
<circle cx="468.20" cy="356.40" r="2.3" fill="url(#gp)"/>
<circle cx="468.81" cy="356.41" r="2.3" fill="url(#gp)"/>
<circle cx="469.42" cy="356.41" r="2.3" fill="url(#gp)"/>
<circle cx="470.03" cy="356.42" r="2.3" fill="url(#gp)"/>
<circle cx="470.64" cy="356.42" r="2.3" fill="url(#gp)"/>
<circle cx="471.25" cy="356.43" r="2.3" fill="url(#gp)"/>
<circle cx="471.86" cy="356.43" r="2.3" fill="url(#gp)"/>
<circle cx="472.47" cy="356.44" r="2.3" fill="url(#gp)"/>
<circle cx="473.08" cy="356.44" r="2.3" fill="url(#gp)"/>
<circle cx="473.69" cy="356.44" r="2.3" fill="url(#gp)"/>
<circle cx="474.30" cy="356.45" r="2.3" fill="url(#gp)"/>
<circle cx="474.91" cy="356.45" r="2.3" fill="url(#gp)"/>
<circle cx="475.52" cy="356.46" r="2.3" fill="url(#gp)"/>
<circle cx="476.13" cy="356.46" r="2.3" fill="url(#gp)"/>
<circle cx="476.74" cy="356.47" r="2.3" fill="url(#gp)"/>
<circle cx="477.35" cy="356.47" r="2.3" fill="url(#gp)"/>
<circle cx="477.96" cy="356.48" r="2.3" fill="url(#gp)"/>
<circle cx="478.57" cy="356.48" r="2.3" fill="url(#gp)"/>
<circle cx="479.18" cy="356.48" r="2.3" fill="url(#gp)"/>
<circle cx="479.79" cy="356.49" r="2.3" fill="url(#gp)"/>
<circle cx="480.40" cy="356.49" r="2.3" fill="url(#gp)"/>
<circle cx="481.01" cy="356.50" r="2.3" fill="url(#gp)"/>
<circle cx="481.62" cy="356.50" r="2.3" fill="url(#gp)"/>
<circle cx="482.23" cy="356.50" r="2.3" fill="url(#gp)"/>
<circle cx="482.84" cy="356.51" r="2.3" fill="url(#gp)"/>
<circle cx="483.45" cy="356.51" r="2.3" fill="url(#gp)"/>
<circle cx="484.06" cy="356.52" r="2.3" fill="url(#gp)"/>
<circle cx="484.67" cy="356.52" r="2.3" fill="url(#gp)"/>
<circle cx="485.28" cy="356.52" r="2.3" fill="url(#gp)"/>
<circle cx="485.89" cy="356.53" r="2.3" fill="url(#gp)"/>
<circle cx="486.50" cy="356.53" r="2.3" fill="url(#gp)"/>
<circle cx="487.11" cy="356.54" r="2.3" fill="url(#gp)"/>
<circle cx="487.72" cy="356.54" r="2.3" fill="url(#gp)"/>
<circle cx="488.33" cy="356.54" r="2.3" fill="url(#gp)"/>
<circle cx="488.94" cy="356.55" r="2.3" fill="url(#gp)"/>
<circle cx="489.55" cy="356.55" r="2.3" fill="url(#gp)"/>
<circle cx="490.16" cy="356.55" r="2.3" fill="url(#gp)"/>
<circle cx="490.77" cy="356.56" r="2.3" fill="url(#gp)"/>
<circle cx="491.38" cy="356.56" r="2.3" fill="url(#gp)"/>
<circle cx="491.99" cy="356.56" r="2.3" fill="url(#gp)"/>
<circle cx="492.60" cy="356.57" r="2.3" fill="url(#gp)"/>
<circle cx="493.21" cy="356.57" r="2.3" fill="url(#gp)"/>
<circle cx="493.82" cy="356.58" r="2.3" fill="url(#gp)"/>
<circle cx="494.43" cy="356.58" r="2.3" fill="url(#gp)"/>
<circle cx="495.04" cy="356.58" r="2.3" fill="url(#gp)"/>
<circle cx="495.65" cy="356.59" r="2.3" fill="url(#gp)"/>
<circle cx="496.26" cy="356.59" r="2.3" fill="url(#gp)"/>
<circle cx="496.87" cy="356.59" r="2.3" fill="url(#gp)"/>
<circle cx="497.48" cy="356.60" r="2.3" fill="url(#gp)"/>
<circle cx="498.09" cy="356.60" r="2.3" fill="url(#gp)"/>
<circle cx="498.70" cy="356.60" r="2.3" fill="url(#gp)"/>
<circle cx="499.31" cy="356.61" r="2.3" fill="url(#gp)"/>
<circle cx="499.92" cy="356.61" r="2.3" fill="url(#gp)"/>
<circle cx="500.53" cy="356.61" r="2.3" fill="url(#gp)"/>
<circle cx="501.14" cy="356.61" r="2.3" fill="url(#gp)"/>
<circle cx="501.75" cy="356.62" r="2.3" fill="url(#gp)"/>
<circle cx="502.36" cy="356.62" r="2.3" fill="url(#gp)"/>
<circle cx="502.97" cy="356.62" r="2.3" fill="url(#gp)"/>
<circle cx="503.58" cy="356.63" r="2.3" fill="url(#gp)"/>
<circle cx="504.19" cy="356.63" r="2.3" fill="url(#gp)"/>
<circle cx="504.80" cy="356.63" r="2.3" fill="url(#gp)"/>
<circle cx="505.41" cy="356.64" r="2.3" fill="url(#gp)"/>
<circle cx="506.02" cy="356.64" r="2.3" fill="url(#gp)"/>
<circle cx="506.63" cy="356.64" r="2.3" fill="url(#gp)"/>
<circle cx="507.24" cy="356.65" r="2.3" fill="url(#gp)"/>
<circle cx="507.85" cy="356.65" r="2.3" fill="url(#gp)"/>
<circle cx="508.46" cy="356.65" r="2.3" fill="url(#gp)"/>
<circle cx="509.07" cy="356.65" r="2.3" fill="url(#gp)"/>
<circle cx="509.68" cy="356.66" r="2.3" fill="url(#gp)"/>
<circle cx="510.29" cy="356.66" r="2.3" fill="url(#gp)"/>
<circle cx="510.90" cy="356.66" r="2.3" fill="url(#gp)"/>
<circle cx="511.51" cy="356.67" r="2.3" fill="url(#gp)"/>
<circle cx="512.12" cy="356.67" r="2.3" fill="url(#gp)"/>
<circle cx="512.73" cy="356.67" r="2.3" fill="url(#gp)"/>
<circle cx="513.34" cy="356.67" r="2.3" fill="url(#gp)"/>
<circle cx="513.95" cy="356.68" r="2.3" fill="url(#gp)"/>
<circle cx="514.56" cy="356.68" r="2.3" fill="url(#gp)"/>
<circle cx="515.17" cy="356.68" r="2.3" fill="url(#gp)"/>
<circle cx="515.78" cy="356.68" r="2.3" fill="url(#gp)"/>
<circle cx="516.39" cy="356.69" r="2.3" fill="url(#gp)"/>
<circle cx="517.00" cy="356.69" r="2.3" fill="url(#gp)"/>
<circle cx="517.61" cy="356.69" r="2.3" fill="url(#gp)"/>
<circle cx="518.22" cy="356.69" r="2.3" fill="url(#gp)"/>
<circle cx="518.83" cy="356.70" r="2.3" fill="url(#gp)"/>
<circle cx="519.44" cy="356.70" r="2.3" fill="url(#gp)"/>
<circle cx="520.05" cy="356.70" r="2.3" fill="url(#gp)"/>
<circle cx="520.66" cy="356.70" r="2.3" fill="url(#gp)"/>
<circle cx="521.27" cy="356.71" r="2.3" fill="url(#gp)"/>
<rect x="323.2" y="210.2" width="212.9" height="158.8" fill="none" stroke="#000" stroke-width="1.5"/>
<line x1="323.2" y1="358.0" x2="320.2" y2="358.0" stroke="#000" stroke-width="1.1"/>
<text x="318.6" y="362.9" font-family="Liberation Serif, serif" font-weight="bold" stroke="#000" stroke-width="0.3" font-size="14" text-anchor="end">0</text>
<line x1="323.2" y1="344.4" x2="321.2" y2="344.4" stroke="#000" stroke-width="1.1"/>
<line x1="323.2" y1="330.7" x2="320.2" y2="330.7" stroke="#000" stroke-width="1.1"/>
<text x="318.6" y="335.6" font-family="Liberation Serif, serif" font-weight="bold" stroke="#000" stroke-width="0.3" font-size="14" text-anchor="end">5</text>
<line x1="323.2" y1="317.1" x2="321.2" y2="317.1" stroke="#000" stroke-width="1.1"/>
<line x1="323.2" y1="303.4" x2="320.2" y2="303.4" stroke="#000" stroke-width="1.1"/>
<text x="318.6" y="308.3" font-family="Liberation Serif, serif" font-weight="bold" stroke="#000" stroke-width="0.3" font-size="14" text-anchor="end">10</text>
<line x1="323.2" y1="289.8" x2="321.2" y2="289.8" stroke="#000" stroke-width="1.1"/>
<line x1="323.2" y1="276.1" x2="320.2" y2="276.1" stroke="#000" stroke-width="1.1"/>
<text x="318.6" y="281.0" font-family="Liberation Serif, serif" font-weight="bold" stroke="#000" stroke-width="0.3" font-size="14" text-anchor="end">15</text>
<line x1="323.2" y1="262.4" x2="321.2" y2="262.4" stroke="#000" stroke-width="1.1"/>
<line x1="323.2" y1="248.8" x2="320.2" y2="248.8" stroke="#000" stroke-width="1.1"/>
<text x="318.6" y="253.7" font-family="Liberation Serif, serif" font-weight="bold" stroke="#000" stroke-width="0.3" font-size="14" text-anchor="end">20</text>
<line x1="323.2" y1="235.2" x2="321.2" y2="235.2" stroke="#000" stroke-width="1.1"/>
<line x1="323.2" y1="221.5" x2="320.2" y2="221.5" stroke="#000" stroke-width="1.1"/>
<text x="318.6" y="226.4" font-family="Liberation Serif, serif" font-weight="bold" stroke="#000" stroke-width="0.3" font-size="14" text-anchor="end">25</text>
<line x1="338.2" y1="369.0" x2="338.2" y2="372.0" stroke="#000" stroke-width="1.1"/>
<text x="338.2" y="386.4" font-family="Liberation Serif, serif" font-weight="bold" stroke="#000" stroke-width="0.3" font-size="14" text-anchor="middle">0</text>
<line x1="368.7" y1="369.0" x2="368.7" y2="371.0" stroke="#000" stroke-width="1.1"/>
<line x1="399.2" y1="369.0" x2="399.2" y2="372.0" stroke="#000" stroke-width="1.1"/>
<text x="399.2" y="386.4" font-family="Liberation Serif, serif" font-weight="bold" stroke="#000" stroke-width="0.3" font-size="14" text-anchor="middle">100</text>
<line x1="429.7" y1="369.0" x2="429.7" y2="371.0" stroke="#000" stroke-width="1.1"/>
<line x1="460.2" y1="369.0" x2="460.2" y2="372.0" stroke="#000" stroke-width="1.1"/>
<text x="460.2" y="386.4" font-family="Liberation Serif, serif" font-weight="bold" stroke="#000" stroke-width="0.3" font-size="14" text-anchor="middle">200</text>
<line x1="490.7" y1="369.0" x2="490.7" y2="371.0" stroke="#000" stroke-width="1.1"/>
<line x1="521.2" y1="369.0" x2="521.2" y2="372.0" stroke="#000" stroke-width="1.1"/>
<text x="521.2" y="386.4" font-family="Liberation Serif, serif" font-weight="bold" stroke="#000" stroke-width="0.3" font-size="14" text-anchor="middle">300</text>
<text x="374.9" y="401.2" font-family="Liberation Serif, serif" font-weight="bold" stroke="#000" stroke-width="0.3" font-size="14.4" textLength="105.8" lengthAdjust="spacingAndGlyphs">Temperature (K)</text>
<text transform="translate(292.2,365) rotate(-90)" font-family="Liberation Serif, serif" font-weight="bold" stroke="#000" stroke-width="0.3" font-size="16">Magnetization (emu/g)</text>
<path d="M518.6,232.5 V254.8 H378.7" fill="none" stroke="#000" stroke-width="2.2"/>
<rect x="376.4" y="230.3" width="140.6" height="23.2" fill="#fff" stroke="#c4c4c4" stroke-width="0.7"/>
<line x1="379" y1="242.5" x2="388.6" y2="242.5" stroke="#5a5a98" stroke-width="0.9"/><line x1="398.6" y1="242.5" x2="408.2" y2="242.5" stroke="#5a5a98" stroke-width="0.9"/>
<circle cx="393.8" cy="242.5" r="2.6" fill="url(#gb)"/>
<text x="412.2" y="247" font-family="Liberation Serif, serif" font-weight="bold" stroke="#000" stroke-width="0.3" font-size="12.6">Na<tspan font-size="7.6" dy="4.6">3</tspan><tspan dy="-4.6">FeF</tspan><tspan font-size="7.6" dy="4.6">6</tspan><tspan dy="-4.6">: 18% Tb</tspan><tspan font-size="7" dy="-6.8">3+</tspan></text>
</svg>
</body></html>
